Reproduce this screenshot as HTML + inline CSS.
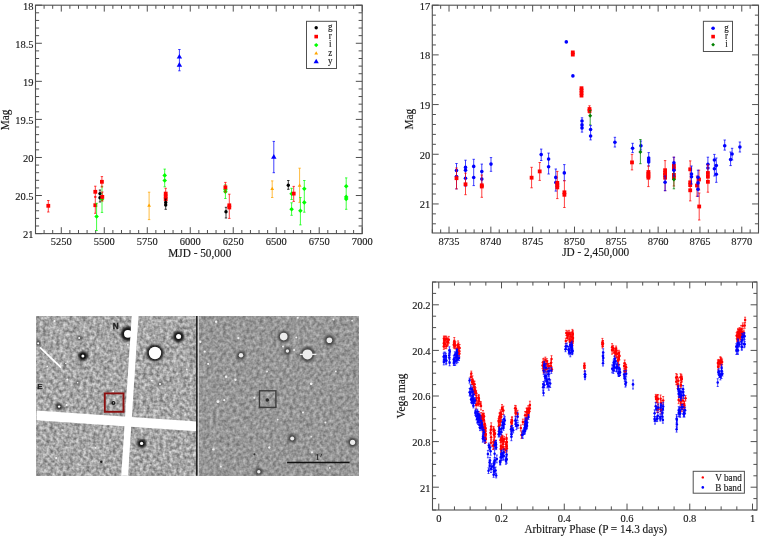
<!DOCTYPE html>
<html><head><meta charset="utf-8"><title>Figure</title><style>html,body{margin:0;padding:0;background:#fff;width:760px;height:537px;overflow:hidden}svg{display:block;filter:blur(0.35px)}text{font-family:"Liberation Serif",serif;stroke:#1a1a1a;stroke-width:.15px}</style></head><body><svg width="760" height="537" viewBox="0 0 760 537"><g fill="#1a1a1a" font-family="Liberation Serif, serif"><rect x="35.5" y="5.2" width="326.70" height="228.40" fill="none" stroke="#505050" stroke-width="1.1"/><path d="M35.50 233.6v-3.6M35.50 5.2v3.6M44.10 233.6v-3.6M44.10 5.2v3.6M52.69 233.6v-3.6M52.69 5.2v3.6M61.29 233.6v-6.4M61.29 5.2v6.4M69.89 233.6v-3.6M69.89 5.2v3.6M78.49 233.6v-3.6M78.49 5.2v3.6M87.08 233.6v-3.6M87.08 5.2v3.6M95.68 233.6v-3.6M95.68 5.2v3.6M104.28 233.6v-6.4M104.28 5.2v6.4M112.88 233.6v-3.6M112.88 5.2v3.6M121.47 233.6v-3.6M121.47 5.2v3.6M130.07 233.6v-3.6M130.07 5.2v3.6M138.67 233.6v-3.6M138.67 5.2v3.6M147.27 233.6v-6.4M147.27 5.2v6.4M155.86 233.6v-3.6M155.86 5.2v3.6M164.46 233.6v-3.6M164.46 5.2v3.6M173.06 233.6v-3.6M173.06 5.2v3.6M181.66 233.6v-3.6M181.66 5.2v3.6M190.25 233.6v-6.4M190.25 5.2v6.4M198.85 233.6v-3.6M198.85 5.2v3.6M207.45 233.6v-3.6M207.45 5.2v3.6M216.04 233.6v-3.6M216.04 5.2v3.6M224.64 233.6v-3.6M224.64 5.2v3.6M233.24 233.6v-6.4M233.24 5.2v6.4M241.84 233.6v-3.6M241.84 5.2v3.6M250.43 233.6v-3.6M250.43 5.2v3.6M259.03 233.6v-3.6M259.03 5.2v3.6M267.63 233.6v-3.6M267.63 5.2v3.6M276.23 233.6v-6.4M276.23 5.2v6.4M284.82 233.6v-3.6M284.82 5.2v3.6M293.42 233.6v-3.6M293.42 5.2v3.6M302.02 233.6v-3.6M302.02 5.2v3.6M310.62 233.6v-3.6M310.62 5.2v3.6M319.21 233.6v-6.4M319.21 5.2v6.4M327.81 233.6v-3.6M327.81 5.2v3.6M336.41 233.6v-3.6M336.41 5.2v3.6M345.01 233.6v-3.6M345.01 5.2v3.6M353.60 233.6v-3.6M353.60 5.2v3.6M362.20 233.6v-6.4M362.20 5.2v6.4M35.5 5.20h6.4M362.2 5.20h-6.4M35.5 12.81h3.6M362.2 12.81h-3.6M35.5 20.43h3.6M362.2 20.43h-3.6M35.5 28.04h3.6M362.2 28.04h-3.6M35.5 35.65h3.6M362.2 35.65h-3.6M35.5 43.27h6.4M362.2 43.27h-6.4M35.5 50.88h3.6M362.2 50.88h-3.6M35.5 58.49h3.6M362.2 58.49h-3.6M35.5 66.11h3.6M362.2 66.11h-3.6M35.5 73.72h3.6M362.2 73.72h-3.6M35.5 81.33h6.4M362.2 81.33h-6.4M35.5 88.95h3.6M362.2 88.95h-3.6M35.5 96.56h3.6M362.2 96.56h-3.6M35.5 104.17h3.6M362.2 104.17h-3.6M35.5 111.79h3.6M362.2 111.79h-3.6M35.5 119.40h6.4M362.2 119.40h-6.4M35.5 127.01h3.6M362.2 127.01h-3.6M35.5 134.63h3.6M362.2 134.63h-3.6M35.5 142.24h3.6M362.2 142.24h-3.6M35.5 149.85h3.6M362.2 149.85h-3.6M35.5 157.47h6.4M362.2 157.47h-6.4M35.5 165.08h3.6M362.2 165.08h-3.6M35.5 172.69h3.6M362.2 172.69h-3.6M35.5 180.31h3.6M362.2 180.31h-3.6M35.5 187.92h3.6M362.2 187.92h-3.6M35.5 195.53h6.4M362.2 195.53h-6.4M35.5 203.15h3.6M362.2 203.15h-3.6M35.5 210.76h3.6M362.2 210.76h-3.6M35.5 218.37h3.6M362.2 218.37h-3.6M35.5 225.99h3.6M362.2 225.99h-3.6M35.5 233.60h6.4M362.2 233.60h-6.4" stroke="#505050" stroke-width="1.0" fill="none"/><text transform="translate(61.29 245.20) scale(1 1.08)" font-size="10.5" text-anchor="middle">5250</text><text transform="translate(104.28 245.20) scale(1 1.08)" font-size="10.5" text-anchor="middle">5500</text><text transform="translate(147.27 245.20) scale(1 1.08)" font-size="10.5" text-anchor="middle">5750</text><text transform="translate(190.25 245.20) scale(1 1.08)" font-size="10.5" text-anchor="middle">6000</text><text transform="translate(233.24 245.20) scale(1 1.08)" font-size="10.5" text-anchor="middle">6250</text><text transform="translate(276.23 245.20) scale(1 1.08)" font-size="10.5" text-anchor="middle">6500</text><text transform="translate(319.21 245.20) scale(1 1.08)" font-size="10.5" text-anchor="middle">6750</text><text transform="translate(362.20 245.20) scale(1 1.08)" font-size="10.5" text-anchor="middle">7000</text><text transform="translate(33.50 9.50) scale(1 1.08)" font-size="10.5" text-anchor="end">18</text><text transform="translate(33.50 47.57) scale(1 1.08)" font-size="10.5" text-anchor="end">18.5</text><text transform="translate(33.50 85.63) scale(1 1.08)" font-size="10.5" text-anchor="end">19</text><text transform="translate(33.50 123.70) scale(1 1.08)" font-size="10.5" text-anchor="end">19.5</text><text transform="translate(33.50 161.77) scale(1 1.08)" font-size="10.5" text-anchor="end">20</text><text transform="translate(33.50 199.83) scale(1 1.08)" font-size="10.5" text-anchor="end">20.5</text><text transform="translate(33.50 237.90) scale(1 1.08)" font-size="10.5" text-anchor="end">21</text><text transform="translate(199.75 256.50) scale(1 1.08)" font-size="11.3" text-anchor="middle">MJD - 50,000</text><text transform="translate(8.60 120.00) rotate(-90) scale(1 1.08)" font-size="11.3" text-anchor="middle">Mag</text></g>
<g><path d="M48.30 200.50V212.00M47.10 200.50h2.4M47.10 212.00h2.4" stroke="#ff0000" stroke-width="0.75" fill="none"/><rect x="46.40" y="203.90" width="3.8" height="3.8" fill="#ff0000"/><path d="M95.30 186.20V197.40M94.10 186.20h2.4M94.10 197.40h2.4" stroke="#ff0000" stroke-width="0.75" fill="none"/><rect x="93.40" y="189.90" width="3.8" height="3.8" fill="#ff0000"/><path d="M95.30 196.50V213.30M94.10 196.50h2.4M94.10 213.30h2.4" stroke="#ff0000" stroke-width="0.75" fill="none"/><rect x="93.40" y="203.30" width="3.8" height="3.8" fill="#ff0000"/><path d="M96.60 203.30V230.50M95.40 203.30h2.4M95.40 230.50h2.4" stroke="#00ff00" stroke-width="0.75" fill="none"/><path d="M96.60 214.20L98.90 216.50L96.60 218.80L94.30 216.50Z" fill="#00ff00"/><path d="M100.00 190.00V202.00M98.80 190.00h2.4M98.80 202.00h2.4" stroke="#000" stroke-width="0.75" fill="none"/><circle cx="100.00" cy="193.60" r="1.7" fill="#000"/><circle cx="100.00" cy="197.70" r="1.7" fill="#000"/><path d="M102.00 186.30V212.40M100.80 186.30h2.4M100.80 212.40h2.4" stroke="#00ff00" stroke-width="0.75" fill="none"/><path d="M102.00 196.90L104.30 199.20L102.00 201.50L99.70 199.20Z" fill="#00ff00"/><path d="M101.90 176.60V187.00M100.70 176.60h2.4M100.70 187.00h2.4" stroke="#ff0000" stroke-width="0.75" fill="none"/><rect x="100.00" y="179.90" width="3.8" height="3.8" fill="#ff0000"/><path d="M102.30 192.00V201.00M101.10 192.00h2.4M101.10 201.00h2.4" stroke="#ff0000" stroke-width="0.75" fill="none"/><rect x="100.40" y="195.00" width="3.8" height="3.8" fill="#ff0000"/><path d="M149.10 192.20V219.60M147.90 192.20h2.4M147.90 219.60h2.4" stroke="#ffa500" stroke-width="0.75" fill="none"/><path d="M149.10 203.40L151.00 206.73L147.20 206.73Z" fill="#ffa500"/><path d="M164.70 169.10V186.80M163.50 169.10h2.4M163.50 186.80h2.4" stroke="#00ff00" stroke-width="0.75" fill="none"/><path d="M164.70 173.10L167.00 175.40L164.70 177.70L162.40 175.40Z" fill="#00ff00"/><path d="M164.70 178.20L167.00 180.50L164.70 182.80L162.40 180.50Z" fill="#00ff00"/><path d="M165.70 188.30V204.00M164.50 188.30h2.4M164.50 204.00h2.4" stroke="#ff0000" stroke-width="0.75" fill="none"/><rect x="163.80" y="191.70" width="3.8" height="3.8" fill="#ff0000"/><rect x="163.80" y="194.60" width="3.8" height="3.8" fill="#ff0000"/><rect x="163.80" y="197.40" width="3.8" height="3.8" fill="#ff0000"/><path d="M165.70 199.00V209.30M164.50 199.00h2.4M164.50 209.30h2.4" stroke="#000" stroke-width="0.75" fill="none"/><circle cx="165.70" cy="202.50" r="1.7" fill="#000"/><circle cx="165.70" cy="205.00" r="1.7" fill="#000"/><path d="M225.40 184.80V198.50M224.20 184.80h2.4M224.20 198.50h2.4" stroke="#00ff00" stroke-width="0.75" fill="none"/><path d="M225.40 187.40L227.70 189.70L225.40 192.00L223.10 189.70Z" fill="#00ff00"/><path d="M225.40 189.50L227.70 191.80L225.40 194.10L223.10 191.80Z" fill="#00ff00"/><path d="M225.40 182.40V192.00M224.20 182.40h2.4M224.20 192.00h2.4" stroke="#ff0000" stroke-width="0.75" fill="none"/><rect x="223.50" y="185.40" width="3.8" height="3.8" fill="#ff0000"/><path d="M226.00 207.30V218.00M224.80 207.30h2.4M224.80 218.00h2.4" stroke="#000" stroke-width="0.75" fill="none"/><circle cx="226.00" cy="211.80" r="1.7" fill="#000"/><path d="M229.30 194.20V218.40M228.10 194.20h2.4M228.10 218.40h2.4" stroke="#ff0000" stroke-width="0.75" fill="none"/><rect x="227.40" y="203.40" width="3.8" height="3.8" fill="#ff0000"/><rect x="227.40" y="205.60" width="3.8" height="3.8" fill="#ff0000"/><path d="M179.40 49.50V70.80M178.20 49.50h2.4M178.20 70.80h2.4" stroke="#0000ff" stroke-width="0.75" fill="none"/><path d="M179.40 53.90L182.10 58.62L176.70 58.62Z" fill="#0000ff"/><path d="M179.40 62.00L182.10 66.73L176.70 66.73Z" fill="#0000ff"/><path d="M273.80 141.40V172.70M272.60 141.40h2.4M272.60 172.70h2.4" stroke="#0000ff" stroke-width="0.75" fill="none"/><path d="M273.80 154.10L276.50 158.83L271.10 158.83Z" fill="#0000ff"/><path d="M272.20 180.90V197.50M271.00 180.90h2.4M271.00 197.50h2.4" stroke="#ffa500" stroke-width="0.75" fill="none"/><path d="M272.20 186.80L274.10 190.12L270.30 190.12Z" fill="#ffa500"/><path d="M288.30 180.50V189.30M287.10 180.50h2.4M287.10 189.30h2.4" stroke="#000" stroke-width="0.75" fill="none"/><circle cx="288.30" cy="185.20" r="1.7" fill="#000"/><path d="M291.60 188.30V199.50M290.40 188.30h2.4M290.40 199.50h2.4" stroke="#00ff00" stroke-width="0.75" fill="none"/><path d="M291.60 191.50L293.90 193.80L291.60 196.10L289.30 193.80Z" fill="#00ff00"/><path d="M293.70 186.40V201.40M292.50 186.40h2.4M292.50 201.40h2.4" stroke="#ff0000" stroke-width="0.75" fill="none"/><rect x="291.80" y="191.70" width="3.8" height="3.8" fill="#ff0000"/><path d="M291.60 202.80V215.30M290.40 202.80h2.4M290.40 215.30h2.4" stroke="#00ff00" stroke-width="0.75" fill="none"/><path d="M291.60 207.00L293.90 209.30L291.60 211.60L289.30 209.30Z" fill="#00ff00"/><path d="M299.60 168.20V202.40M298.40 168.20h2.4M298.40 202.40h2.4" stroke="#ffa500" stroke-width="0.75" fill="none"/><path d="M299.60 183.50L301.50 186.83L297.70 186.83Z" fill="#ffa500"/><path d="M300.40 197.50V224.90M299.20 197.50h2.4M299.20 224.90h2.4" stroke="#00ff00" stroke-width="0.75" fill="none"/><path d="M300.40 208.50L302.70 210.80L300.40 213.10L298.10 210.80Z" fill="#00ff00"/><path d="M304.30 180.50V212.20M303.10 180.50h2.4M303.10 212.20h2.4" stroke="#00ff00" stroke-width="0.75" fill="none"/><path d="M304.30 186.40L306.60 188.70L304.30 191.00L302.00 188.70Z" fill="#00ff00"/><path d="M304.30 200.10L306.60 202.40L304.30 204.70L302.00 202.40Z" fill="#00ff00"/><path d="M346.20 177.90V209.30M345.00 177.90h2.4M345.00 209.30h2.4" stroke="#00ff00" stroke-width="0.75" fill="none"/><path d="M346.20 183.90L348.50 186.20L346.20 188.50L343.90 186.20Z" fill="#00ff00"/><path d="M346.20 194.60L348.50 196.90L346.20 199.20L343.90 196.90Z" fill="#00ff00"/><path d="M346.20 196.60L348.50 198.90L346.20 201.20L343.90 198.90Z" fill="#00ff00"/></g>
<g fill="#1a1a1a" font-family="Liberation Serif, serif"><rect x="306.5" y="21.3" width="30" height="47.2" fill="none" stroke="#505050" stroke-width="1.0"/><circle cx="316.20" cy="27.80" r="1.7" fill="#000"/><rect x="314.40" y="34.80" width="3.6" height="3.6" fill="#ff0000"/><path d="M316.20 42.90L318.40 45.10L316.20 47.30L314.00 45.10Z" fill="#00ff00"/><path d="M316.20 51.30L318.10 54.62L314.30 54.62Z" fill="#ffa500"/><path d="M316.20 58.70L318.80 63.25L313.60 63.25Z" fill="#0000ff"/><text transform="translate(330.20 30.30) scale(1 1.08)" font-size="9" text-anchor="middle">g</text><text transform="translate(330.20 38.70) scale(1 1.08)" font-size="9" text-anchor="middle">r</text><text transform="translate(330.20 47.10) scale(1 1.08)" font-size="9" text-anchor="middle">i</text><text transform="translate(330.20 55.50) scale(1 1.08)" font-size="9" text-anchor="middle">z</text><text transform="translate(330.20 63.90) scale(1 1.08)" font-size="9" text-anchor="middle">y</text></g>
<g fill="#1a1a1a" font-family="Liberation Serif, serif"><rect x="432.3" y="5.2" width="326.20" height="227.80" fill="none" stroke="#505050" stroke-width="1.1"/><path d="M432.30 233v-3.6M432.30 5.2v3.6M440.66 233v-3.6M440.66 5.2v3.6M449.03 233v-6.4M449.03 5.2v6.4M457.39 233v-3.6M457.39 5.2v3.6M465.76 233v-3.6M465.76 5.2v3.6M474.12 233v-3.6M474.12 5.2v3.6M482.48 233v-3.6M482.48 5.2v3.6M490.85 233v-6.4M490.85 5.2v6.4M499.21 233v-3.6M499.21 5.2v3.6M507.58 233v-3.6M507.58 5.2v3.6M515.94 233v-3.6M515.94 5.2v3.6M524.31 233v-3.6M524.31 5.2v3.6M532.67 233v-6.4M532.67 5.2v6.4M541.03 233v-3.6M541.03 5.2v3.6M549.40 233v-3.6M549.40 5.2v3.6M557.76 233v-3.6M557.76 5.2v3.6M566.13 233v-3.6M566.13 5.2v3.6M574.49 233v-6.4M574.49 5.2v6.4M582.85 233v-3.6M582.85 5.2v3.6M591.22 233v-3.6M591.22 5.2v3.6M599.58 233v-3.6M599.58 5.2v3.6M607.95 233v-3.6M607.95 5.2v3.6M616.31 233v-6.4M616.31 5.2v6.4M624.67 233v-3.6M624.67 5.2v3.6M633.04 233v-3.6M633.04 5.2v3.6M641.40 233v-3.6M641.40 5.2v3.6M649.77 233v-3.6M649.77 5.2v3.6M658.13 233v-6.4M658.13 5.2v6.4M666.49 233v-3.6M666.49 5.2v3.6M674.86 233v-3.6M674.86 5.2v3.6M683.22 233v-3.6M683.22 5.2v3.6M691.59 233v-3.6M691.59 5.2v3.6M699.95 233v-6.4M699.95 5.2v6.4M708.32 233v-3.6M708.32 5.2v3.6M716.68 233v-3.6M716.68 5.2v3.6M725.04 233v-3.6M725.04 5.2v3.6M733.41 233v-3.6M733.41 5.2v3.6M741.77 233v-6.4M741.77 5.2v6.4M750.14 233v-3.6M750.14 5.2v3.6M758.50 233v-3.6M758.50 5.2v3.6M432.3 5.20h6.4M758.5 5.20h-6.4M432.3 15.14h3.6M758.5 15.14h-3.6M432.3 25.07h3.6M758.5 25.07h-3.6M432.3 35.01h3.6M758.5 35.01h-3.6M432.3 44.95h3.6M758.5 44.95h-3.6M432.3 54.88h6.4M758.5 54.88h-6.4M432.3 64.82h3.6M758.5 64.82h-3.6M432.3 74.76h3.6M758.5 74.76h-3.6M432.3 84.69h3.6M758.5 84.69h-3.6M432.3 94.63h3.6M758.5 94.63h-3.6M432.3 104.57h6.4M758.5 104.57h-6.4M432.3 114.50h3.6M758.5 114.50h-3.6M432.3 124.44h3.6M758.5 124.44h-3.6M432.3 134.38h3.6M758.5 134.38h-3.6M432.3 144.31h3.6M758.5 144.31h-3.6M432.3 154.25h6.4M758.5 154.25h-6.4M432.3 164.19h3.6M758.5 164.19h-3.6M432.3 174.12h3.6M758.5 174.12h-3.6M432.3 184.06h3.6M758.5 184.06h-3.6M432.3 194.00h3.6M758.5 194.00h-3.6M432.3 203.94h6.4M758.5 203.94h-6.4M432.3 213.87h3.6M758.5 213.87h-3.6M432.3 223.81h3.6M758.5 223.81h-3.6" stroke="#505050" stroke-width="1.0" fill="none"/><text transform="translate(449.03 244.60) scale(1 1.08)" font-size="10.5" text-anchor="middle">8735</text><text transform="translate(490.85 244.60) scale(1 1.08)" font-size="10.5" text-anchor="middle">8740</text><text transform="translate(532.67 244.60) scale(1 1.08)" font-size="10.5" text-anchor="middle">8745</text><text transform="translate(574.49 244.60) scale(1 1.08)" font-size="10.5" text-anchor="middle">8750</text><text transform="translate(616.31 244.60) scale(1 1.08)" font-size="10.5" text-anchor="middle">8755</text><text transform="translate(658.13 244.60) scale(1 1.08)" font-size="10.5" text-anchor="middle">8760</text><text transform="translate(699.95 244.60) scale(1 1.08)" font-size="10.5" text-anchor="middle">8765</text><text transform="translate(741.77 244.60) scale(1 1.08)" font-size="10.5" text-anchor="middle">8770</text><text transform="translate(430.30 9.50) scale(1 1.08)" font-size="10.5" text-anchor="end">17</text><text transform="translate(430.30 59.18) scale(1 1.08)" font-size="10.5" text-anchor="end">18</text><text transform="translate(430.30 108.87) scale(1 1.08)" font-size="10.5" text-anchor="end">19</text><text transform="translate(430.30 158.55) scale(1 1.08)" font-size="10.5" text-anchor="end">20</text><text transform="translate(430.30 208.24) scale(1 1.08)" font-size="10.5" text-anchor="end">21</text><text transform="translate(595.70 256.30) scale(1 1.08)" font-size="11.3" text-anchor="middle">JD - 2,450,000</text><text transform="translate(412.90 119.10) rotate(-90) scale(1 1.08)" font-size="11.3" text-anchor="middle">Mag</text></g>
<g><path d="M456.50 163.50V188.90M455.30 163.50h2.4M455.30 188.90h2.4" stroke="#0000ff" stroke-width="0.75" fill="none"/><circle cx="456.50" cy="170.60" r="1.8" fill="#0000ff"/><circle cx="456.50" cy="176.50" r="1.8" fill="#0000ff"/><path d="M456.50 168.00V188.90M455.30 168.00h2.4M455.30 188.90h2.4" stroke="#ff0000" stroke-width="0.75" fill="none"/><rect x="454.60" y="176.30" width="3.8" height="3.8" fill="#ff0000"/><path d="M465.50 160.20V186.30M464.30 160.20h2.4M464.30 186.30h2.4" stroke="#0000ff" stroke-width="0.75" fill="none"/><circle cx="465.50" cy="167.40" r="1.8" fill="#0000ff"/><circle cx="465.50" cy="170.20" r="1.8" fill="#0000ff"/><circle cx="465.50" cy="178.20" r="1.8" fill="#0000ff"/><path d="M465.50 173.20V194.70M464.30 173.20h2.4M464.30 194.70h2.4" stroke="#ff0000" stroke-width="0.75" fill="none"/><rect x="463.60" y="182.40" width="3.8" height="3.8" fill="#ff0000"/><path d="M473.70 159.30V185.60M472.50 159.30h2.4M472.50 185.60h2.4" stroke="#0000ff" stroke-width="0.75" fill="none"/><circle cx="473.70" cy="166.40" r="1.8" fill="#0000ff"/><circle cx="473.70" cy="177.50" r="1.8" fill="#0000ff"/><path d="M481.80 164.10V186.00M480.60 164.10h2.4M480.60 186.00h2.4" stroke="#0000ff" stroke-width="0.75" fill="none"/><circle cx="481.80" cy="171.50" r="1.8" fill="#0000ff"/><circle cx="481.80" cy="179.10" r="1.8" fill="#0000ff"/><path d="M481.80 175.00V197.30M480.60 175.00h2.4M480.60 197.30h2.4" stroke="#ff0000" stroke-width="0.75" fill="none"/><rect x="479.90" y="183.40" width="3.8" height="3.8" fill="#ff0000"/><rect x="479.90" y="184.60" width="3.8" height="3.8" fill="#ff0000"/><path d="M491.00 157.60V171.30M489.80 157.60h2.4M489.80 171.30h2.4" stroke="#0000ff" stroke-width="0.75" fill="none"/><circle cx="491.00" cy="164.10" r="1.8" fill="#0000ff"/><path d="M531.60 167.30V187.80M530.40 167.30h2.4M530.40 187.80h2.4" stroke="#ff0000" stroke-width="0.75" fill="none"/><rect x="529.70" y="175.80" width="3.8" height="3.8" fill="#ff0000"/><path d="M539.70 162.50V180.40M538.50 162.50h2.4M538.50 180.40h2.4" stroke="#ff0000" stroke-width="0.75" fill="none"/><rect x="537.80" y="169.50" width="3.8" height="3.8" fill="#ff0000"/><path d="M541.20 149.10V160.50M540.00 149.10h2.4M540.00 160.50h2.4" stroke="#0000ff" stroke-width="0.75" fill="none"/><circle cx="541.20" cy="154.60" r="1.8" fill="#0000ff"/><path d="M548.60 153.10V174.00M547.40 153.10h2.4M547.40 174.00h2.4" stroke="#0000ff" stroke-width="0.75" fill="none"/><circle cx="548.60" cy="159.10" r="1.8" fill="#0000ff"/><circle cx="548.60" cy="166.80" r="1.8" fill="#0000ff"/><path d="M555.80 169.00V191.10M554.60 169.00h2.4M554.60 191.10h2.4" stroke="#0000ff" stroke-width="0.75" fill="none"/><circle cx="555.80" cy="177.40" r="1.8" fill="#0000ff"/><circle cx="555.80" cy="182.50" r="1.8" fill="#0000ff"/><path d="M557.30 171.40V198.60M556.10 171.40h2.4M556.10 198.60h2.4" stroke="#ff0000" stroke-width="0.75" fill="none"/><rect x="555.40" y="181.00" width="3.8" height="3.8" fill="#ff0000"/><rect x="555.40" y="183.20" width="3.8" height="3.8" fill="#ff0000"/><rect x="555.40" y="185.50" width="3.8" height="3.8" fill="#ff0000"/><path d="M564.30 164.60V180.70M563.10 164.60h2.4M563.10 180.70h2.4" stroke="#0000ff" stroke-width="0.75" fill="none"/><circle cx="564.30" cy="172.90" r="1.8" fill="#0000ff"/><path d="M564.40 180.70V207.50M563.20 180.70h2.4M563.20 207.50h2.4" stroke="#ff0000" stroke-width="0.75" fill="none"/><rect x="562.50" y="190.40" width="3.8" height="3.8" fill="#ff0000"/><rect x="562.50" y="192.90" width="3.8" height="3.8" fill="#ff0000"/><circle cx="566.30" cy="41.90" r="1.8" fill="#0000ff"/><rect x="570.90" y="50.50" width="3.8" height="3.8" fill="#ff0000"/><rect x="570.90" y="52.70" width="3.8" height="3.8" fill="#ff0000"/><circle cx="572.90" cy="75.90" r="1.8" fill="#0000ff"/><rect x="579.60" y="86.30" width="3.8" height="3.8" fill="#ff0000"/><rect x="579.60" y="88.60" width="3.8" height="3.8" fill="#ff0000"/><rect x="579.60" y="91.10" width="3.8" height="3.8" fill="#ff0000"/><rect x="579.60" y="93.70" width="3.8" height="3.8" fill="#ff0000"/><path d="M582.00 117.80V132.10M580.80 117.80h2.4M580.80 132.10h2.4" stroke="#0000ff" stroke-width="0.75" fill="none"/><circle cx="582.00" cy="121.00" r="1.8" fill="#0000ff"/><circle cx="582.00" cy="124.90" r="1.8" fill="#0000ff"/><circle cx="582.00" cy="127.90" r="1.8" fill="#0000ff"/><path d="M589.50 105.80V113.00M588.30 105.80h2.4M588.30 113.00h2.4" stroke="#ff0000" stroke-width="0.75" fill="none"/><rect x="587.60" y="107.10" width="3.8" height="3.8" fill="#ff0000"/><rect x="587.60" y="109.10" width="3.8" height="3.8" fill="#ff0000"/><path d="M590.20 110.50V124.90M589.00 110.50h2.4M589.00 124.90h2.4" stroke="#008000" stroke-width="0.75" fill="none"/><path d="M590.20 113.80L592.20 115.80L590.20 117.80L588.20 115.80Z" fill="#008000"/><path d="M590.60 125.60V139.90M589.40 125.60h2.4M589.40 139.90h2.4" stroke="#0000ff" stroke-width="0.75" fill="none"/><circle cx="590.60" cy="129.50" r="1.8" fill="#0000ff"/><circle cx="590.60" cy="136.00" r="1.8" fill="#0000ff"/><path d="M614.90 137.30V147.00M613.70 137.30h2.4M613.70 147.00h2.4" stroke="#0000ff" stroke-width="0.75" fill="none"/><circle cx="614.90" cy="142.20" r="1.8" fill="#0000ff"/><path d="M632.60 143.30V152.60M631.40 143.30h2.4M631.40 152.60h2.4" stroke="#0000ff" stroke-width="0.75" fill="none"/><circle cx="632.60" cy="148.30" r="1.8" fill="#0000ff"/><path d="M632.00 154.40V169.90M630.80 154.40h2.4M630.80 169.90h2.4" stroke="#ff0000" stroke-width="0.75" fill="none"/><rect x="630.10" y="160.50" width="3.8" height="3.8" fill="#ff0000"/><path d="M640.90 141.00V150.00M639.70 141.00h2.4M639.70 150.00h2.4" stroke="#0000ff" stroke-width="0.75" fill="none"/><circle cx="640.90" cy="145.70" r="1.8" fill="#0000ff"/><path d="M640.40 139.50V163.70M639.20 139.50h2.4M639.20 163.70h2.4" stroke="#008000" stroke-width="0.75" fill="none"/><path d="M640.40 150.00L642.40 152.00L640.40 154.00L638.40 152.00Z" fill="#008000"/><path d="M648.70 152.60V166.00M647.50 152.60h2.4M647.50 166.00h2.4" stroke="#0000ff" stroke-width="0.75" fill="none"/><circle cx="648.70" cy="158.10" r="1.8" fill="#0000ff"/><circle cx="648.70" cy="160.00" r="1.8" fill="#0000ff"/><circle cx="648.70" cy="161.90" r="1.8" fill="#0000ff"/><path d="M648.40 166.00V186.60M647.20 166.00h2.4M647.20 186.60h2.4" stroke="#ff0000" stroke-width="0.75" fill="none"/><rect x="646.50" y="170.10" width="3.8" height="3.8" fill="#ff0000"/><rect x="646.50" y="172.10" width="3.8" height="3.8" fill="#ff0000"/><rect x="646.50" y="174.10" width="3.8" height="3.8" fill="#ff0000"/><rect x="646.50" y="175.80" width="3.8" height="3.8" fill="#ff0000"/><path d="M665.10 160.60V190.70M663.90 160.60h2.4M663.90 190.70h2.4" stroke="#ff0000" stroke-width="0.75" fill="none"/><rect x="663.20" y="168.30" width="3.8" height="3.8" fill="#ff0000"/><rect x="663.20" y="171.10" width="3.8" height="3.8" fill="#ff0000"/><rect x="663.20" y="173.10" width="3.8" height="3.8" fill="#ff0000"/><rect x="663.20" y="175.80" width="3.8" height="3.8" fill="#ff0000"/><path d="M665.10 176.00V190.70M663.90 176.00h2.4M663.90 190.70h2.4" stroke="#0000ff" stroke-width="0.75" fill="none"/><circle cx="665.10" cy="182.30" r="1.8" fill="#0000ff"/><path d="M673.90 157.20V186.00M672.70 157.20h2.4M672.70 186.00h2.4" stroke="#ff0000" stroke-width="0.75" fill="none"/><rect x="672.00" y="163.70" width="3.8" height="3.8" fill="#ff0000"/><rect x="672.00" y="166.80" width="3.8" height="3.8" fill="#ff0000"/><rect x="672.00" y="173.00" width="3.8" height="3.8" fill="#ff0000"/><rect x="672.00" y="175.80" width="3.8" height="3.8" fill="#ff0000"/><path d="M673.90 170.00V188.80M672.70 170.00h2.4M672.70 188.80h2.4" stroke="#008000" stroke-width="0.75" fill="none"/><path d="M673.90 177.50L675.90 179.50L673.90 181.50L671.90 179.50Z" fill="#008000"/><path d="M673.90 157.20V176.00M672.70 157.20h2.4M672.70 176.00h2.4" stroke="#0000ff" stroke-width="0.75" fill="none"/><circle cx="673.90" cy="162.80" r="1.8" fill="#0000ff"/><circle cx="673.90" cy="170.20" r="1.8" fill="#0000ff"/><path d="M690.20 160.90V200.90M689.00 160.90h2.4M689.00 200.90h2.4" stroke="#ff0000" stroke-width="0.75" fill="none"/><rect x="688.30" y="167.40" width="3.8" height="3.8" fill="#ff0000"/><rect x="688.30" y="180.40" width="3.8" height="3.8" fill="#ff0000"/><rect x="688.30" y="183.20" width="3.8" height="3.8" fill="#ff0000"/><rect x="688.30" y="188.40" width="3.8" height="3.8" fill="#ff0000"/><path d="M691.50 166.00V184.00M690.30 166.00h2.4M690.30 184.00h2.4" stroke="#0000ff" stroke-width="0.75" fill="none"/><circle cx="691.50" cy="174.00" r="1.8" fill="#0000ff"/><circle cx="691.50" cy="176.70" r="1.8" fill="#0000ff"/><path d="M699.00 170.20V190.00M697.80 170.20h2.4M697.80 190.00h2.4" stroke="#ff0000" stroke-width="0.75" fill="none"/><rect x="697.10" y="177.60" width="3.8" height="3.8" fill="#ff0000"/><path d="M697.00 176.00V196.30M695.80 176.00h2.4M695.80 196.30h2.4" stroke="#ff0000" stroke-width="0.75" fill="none"/><rect x="695.10" y="183.60" width="3.8" height="3.8" fill="#ff0000"/><path d="M698.00 170.20V196.30M696.80 170.20h2.4M696.80 196.30h2.4" stroke="#0000ff" stroke-width="0.75" fill="none"/><circle cx="698.00" cy="177.30" r="1.8" fill="#0000ff"/><circle cx="698.00" cy="182.90" r="1.8" fill="#0000ff"/><circle cx="698.00" cy="189.20" r="1.8" fill="#0000ff"/><path d="M699.20 193.00V220.00M698.00 193.00h2.4M698.00 220.00h2.4" stroke="#ff0000" stroke-width="0.75" fill="none"/><rect x="697.30" y="204.60" width="3.8" height="3.8" fill="#ff0000"/><path d="M707.90 157.20V175.00M706.70 157.20h2.4M706.70 175.00h2.4" stroke="#0000ff" stroke-width="0.75" fill="none"/><circle cx="707.90" cy="164.30" r="1.8" fill="#0000ff"/><circle cx="707.90" cy="168.00" r="1.8" fill="#0000ff"/><path d="M707.90 165.00V192.20M706.70 165.00h2.4M706.70 192.20h2.4" stroke="#ff0000" stroke-width="0.75" fill="none"/><rect x="706.00" y="171.10" width="3.8" height="3.8" fill="#ff0000"/><rect x="706.00" y="174.80" width="3.8" height="3.8" fill="#ff0000"/><rect x="706.00" y="179.90" width="3.8" height="3.8" fill="#ff0000"/><path d="M714.40 154.40V176.00M713.20 154.40h2.4M713.20 176.00h2.4" stroke="#0000ff" stroke-width="0.75" fill="none"/><circle cx="714.40" cy="160.00" r="1.8" fill="#0000ff"/><circle cx="714.40" cy="168.70" r="1.8" fill="#0000ff"/><path d="M716.30 158.00V182.30M715.10 158.00h2.4M715.10 182.30h2.4" stroke="#0000ff" stroke-width="0.75" fill="none"/><circle cx="716.30" cy="165.60" r="1.8" fill="#0000ff"/><circle cx="716.30" cy="174.30" r="1.8" fill="#0000ff"/><path d="M724.70 140.00V150.10M723.50 140.00h2.4M723.50 150.10h2.4" stroke="#0000ff" stroke-width="0.75" fill="none"/><circle cx="724.70" cy="145.70" r="1.8" fill="#0000ff"/><path d="M730.60 152.00V165.60M729.40 152.00h2.4M729.40 165.60h2.4" stroke="#0000ff" stroke-width="0.75" fill="none"/><circle cx="730.60" cy="159.60" r="1.8" fill="#0000ff"/><path d="M732.10 148.30V160.00M730.90 148.30h2.4M730.90 160.00h2.4" stroke="#0000ff" stroke-width="0.75" fill="none"/><circle cx="732.10" cy="154.00" r="1.8" fill="#0000ff"/><path d="M739.90 142.00V152.00M738.70 142.00h2.4M738.70 152.00h2.4" stroke="#0000ff" stroke-width="0.75" fill="none"/><circle cx="739.90" cy="147.00" r="1.8" fill="#0000ff"/></g>
<g fill="#1a1a1a" font-family="Liberation Serif, serif"><rect x="703.4" y="21.3" width="29.1" height="30.2" fill="none" stroke="#505050" stroke-width="1.0"/><circle cx="713.10" cy="28.30" r="1.8" fill="#0000ff"/><rect x="711.30" y="34.80" width="3.6" height="3.6" fill="#ff0000"/><path d="M713.10 42.80L715.00 44.70L713.10 46.60L711.20 44.70Z" fill="#008000"/><text transform="translate(726.50 30.50) scale(1 1.08)" font-size="9" text-anchor="middle">g</text><text transform="translate(726.50 38.70) scale(1 1.08)" font-size="9" text-anchor="middle">r</text><text transform="translate(726.50 46.90) scale(1 1.08)" font-size="9" text-anchor="middle">i</text></g>
<g fill="#1a1a1a" font-family="Liberation Serif, serif"><rect x="432.5" y="282.0" width="324.50" height="228.00" fill="none" stroke="#505050" stroke-width="1.1"/><path d="M438.77 510.0v-6.4M438.77 282.0v6.4M454.46 510.0v-3.6M454.46 282.0v3.6M470.15 510.0v-3.6M470.15 282.0v3.6M485.84 510.0v-3.6M485.84 282.0v3.6M501.52 510.0v-6.4M501.52 282.0v6.4M517.21 510.0v-3.6M517.21 282.0v3.6M532.90 510.0v-3.6M532.90 282.0v3.6M548.58 510.0v-3.6M548.58 282.0v3.6M564.27 510.0v-6.4M564.27 282.0v6.4M579.96 510.0v-3.6M579.96 282.0v3.6M595.64 510.0v-3.6M595.64 282.0v3.6M611.33 510.0v-3.6M611.33 282.0v3.6M627.02 510.0v-6.4M627.02 282.0v6.4M642.70 510.0v-3.6M642.70 282.0v3.6M658.39 510.0v-3.6M658.39 282.0v3.6M674.08 510.0v-3.6M674.08 282.0v3.6M689.77 510.0v-6.4M689.77 282.0v6.4M705.45 510.0v-3.6M705.45 282.0v3.6M721.14 510.0v-3.6M721.14 282.0v3.6M736.83 510.0v-3.6M736.83 282.0v3.6M752.51 510.0v-6.4M752.51 282.0v6.4M432.5 282.00h3.6M757 282.00h-3.6M432.5 293.40h3.6M757 293.40h-3.6M432.5 304.80h6.4M757 304.80h-6.4M432.5 316.20h3.6M757 316.20h-3.6M432.5 327.60h3.6M757 327.60h-3.6M432.5 339.00h3.6M757 339.00h-3.6M432.5 350.40h6.4M757 350.40h-6.4M432.5 361.80h3.6M757 361.80h-3.6M432.5 373.20h3.6M757 373.20h-3.6M432.5 384.60h3.6M757 384.60h-3.6M432.5 396.00h6.4M757 396.00h-6.4M432.5 407.40h3.6M757 407.40h-3.6M432.5 418.80h3.6M757 418.80h-3.6M432.5 430.20h3.6M757 430.20h-3.6M432.5 441.60h6.4M757 441.60h-6.4M432.5 453.00h3.6M757 453.00h-3.6M432.5 464.40h3.6M757 464.40h-3.6M432.5 475.80h3.6M757 475.80h-3.6M432.5 487.20h6.4M757 487.20h-6.4M432.5 498.60h3.6M757 498.60h-3.6M432.5 510.00h3.6M757 510.00h-3.6" stroke="#505050" stroke-width="1.0" fill="none"/><text transform="translate(438.77 521.60) scale(1 1.08)" font-size="10.5" text-anchor="middle">0</text><text transform="translate(501.52 521.60) scale(1 1.08)" font-size="10.5" text-anchor="middle">0.2</text><text transform="translate(564.27 521.60) scale(1 1.08)" font-size="10.5" text-anchor="middle">0.4</text><text transform="translate(627.02 521.60) scale(1 1.08)" font-size="10.5" text-anchor="middle">0.6</text><text transform="translate(689.77 521.60) scale(1 1.08)" font-size="10.5" text-anchor="middle">0.8</text><text transform="translate(752.51 521.60) scale(1 1.08)" font-size="10.5" text-anchor="middle">1</text><text transform="translate(430.50 309.10) scale(1 1.08)" font-size="10.5" text-anchor="end">20.2</text><text transform="translate(430.50 354.70) scale(1 1.08)" font-size="10.5" text-anchor="end">20.4</text><text transform="translate(430.50 400.30) scale(1 1.08)" font-size="10.5" text-anchor="end">20.6</text><text transform="translate(430.50 445.90) scale(1 1.08)" font-size="10.5" text-anchor="end">20.8</text><text transform="translate(430.50 491.50) scale(1 1.08)" font-size="10.5" text-anchor="end">21</text><text transform="translate(595.75 533.20) scale(1 1.08)" font-size="11.3" text-anchor="middle">Arbitrary Phase (P = 14.3 days)</text><text transform="translate(404.90 396.00) rotate(-90) scale(1 1.08)" font-size="11.3" text-anchor="middle">Vega mag</text></g>
<g><path d="M445.6 336.0V343.0M444.6 336.0h2M444.6 343.0h2" stroke="#ff0000" stroke-width="0.7" fill="none"/><circle cx="445.6" cy="339.5" r="1.25" fill="#ff0000"/><path d="M444.0 340.4V346.3M443.0 340.4h2M443.0 346.3h2" stroke="#ff0000" stroke-width="0.7" fill="none"/><circle cx="444.0" cy="343.4" r="1.25" fill="#ff0000"/><path d="M443.9 340.8V345.3M442.9 340.8h2M442.9 345.3h2" stroke="#ff0000" stroke-width="0.7" fill="none"/><circle cx="443.9" cy="343.1" r="1.25" fill="#ff0000"/><path d="M446.3 336.3V341.1M445.3 336.3h2M445.3 341.1h2" stroke="#ff0000" stroke-width="0.7" fill="none"/><circle cx="446.3" cy="338.7" r="1.25" fill="#ff0000"/><path d="M446.3 343.8V348.7M445.3 343.8h2M445.3 348.7h2" stroke="#ff0000" stroke-width="0.7" fill="none"/><circle cx="446.3" cy="346.3" r="1.25" fill="#ff0000"/><path d="M445.0 340.2V348.4M444.0 340.2h2M444.0 348.4h2" stroke="#ff0000" stroke-width="0.7" fill="none"/><circle cx="445.0" cy="344.3" r="1.25" fill="#ff0000"/><path d="M447.3 337.8V346.1M446.3 337.8h2M446.3 346.1h2" stroke="#ff0000" stroke-width="0.7" fill="none"/><circle cx="447.3" cy="342.0" r="1.25" fill="#ff0000"/><path d="M443.8 343.8V349.4M442.8 343.8h2M442.8 349.4h2" stroke="#ff0000" stroke-width="0.7" fill="none"/><circle cx="443.8" cy="346.6" r="1.25" fill="#ff0000"/><path d="M444.4 336.4V342.0M443.4 336.4h2M443.4 342.0h2" stroke="#ff0000" stroke-width="0.7" fill="none"/><circle cx="444.4" cy="339.2" r="1.25" fill="#ff0000"/><path d="M448.8 336.4V343.2M447.8 336.4h2M447.8 343.2h2" stroke="#ff0000" stroke-width="0.7" fill="none"/><circle cx="448.8" cy="339.8" r="1.25" fill="#ff0000"/><path d="M447.7 338.4V345.0M446.7 338.4h2M446.7 345.0h2" stroke="#ff0000" stroke-width="0.7" fill="none"/><circle cx="447.7" cy="341.7" r="1.25" fill="#ff0000"/><path d="M443.9 336.0V341.2M442.9 336.0h2M442.9 341.2h2" stroke="#ff0000" stroke-width="0.7" fill="none"/><circle cx="443.9" cy="338.6" r="1.25" fill="#ff0000"/><path d="M447.9 339.4V345.1M446.9 339.4h2M446.9 345.1h2" stroke="#ff0000" stroke-width="0.7" fill="none"/><circle cx="447.9" cy="342.3" r="1.25" fill="#ff0000"/><path d="M457.6 345.0V350.6M456.6 345.0h2M456.6 350.6h2" stroke="#ff0000" stroke-width="0.7" fill="none"/><circle cx="457.6" cy="347.8" r="1.25" fill="#ff0000"/><path d="M459.1 348.5V353.9M458.1 348.5h2M458.1 353.9h2" stroke="#ff0000" stroke-width="0.7" fill="none"/><circle cx="459.1" cy="351.2" r="1.25" fill="#ff0000"/><path d="M457.5 344.4V352.3M456.5 344.4h2M456.5 352.3h2" stroke="#ff0000" stroke-width="0.7" fill="none"/><circle cx="457.5" cy="348.4" r="1.25" fill="#ff0000"/><path d="M458.6 342.9V351.2M457.6 342.9h2M457.6 351.2h2" stroke="#ff0000" stroke-width="0.7" fill="none"/><circle cx="458.6" cy="347.0" r="1.25" fill="#ff0000"/><path d="M454.3 341.1V348.6M453.3 341.1h2M453.3 348.6h2" stroke="#ff0000" stroke-width="0.7" fill="none"/><circle cx="454.3" cy="344.8" r="1.25" fill="#ff0000"/><path d="M454.6 343.4V348.0M453.6 343.4h2M453.6 348.0h2" stroke="#ff0000" stroke-width="0.7" fill="none"/><circle cx="454.6" cy="345.7" r="1.25" fill="#ff0000"/><path d="M458.2 347.8V354.5M457.2 347.8h2M457.2 354.5h2" stroke="#ff0000" stroke-width="0.7" fill="none"/><circle cx="458.2" cy="351.1" r="1.25" fill="#ff0000"/><path d="M459.6 344.5V351.7M458.6 344.5h2M458.6 351.7h2" stroke="#ff0000" stroke-width="0.7" fill="none"/><circle cx="459.6" cy="348.1" r="1.25" fill="#ff0000"/><path d="M457.7 345.9V352.1M456.7 345.9h2M456.7 352.1h2" stroke="#ff0000" stroke-width="0.7" fill="none"/><circle cx="457.7" cy="349.0" r="1.25" fill="#ff0000"/><path d="M459.4 350.5V356.8M458.4 350.5h2M458.4 356.8h2" stroke="#ff0000" stroke-width="0.7" fill="none"/><circle cx="459.4" cy="353.7" r="1.25" fill="#ff0000"/><path d="M458.1 340.9V348.2M457.1 340.9h2M457.1 348.2h2" stroke="#ff0000" stroke-width="0.7" fill="none"/><circle cx="458.1" cy="344.6" r="1.25" fill="#ff0000"/><path d="M458.0 349.3V357.0M457.0 349.3h2M457.0 357.0h2" stroke="#ff0000" stroke-width="0.7" fill="none"/><circle cx="458.0" cy="353.2" r="1.25" fill="#ff0000"/><path d="M455.5 341.9V349.0M454.5 341.9h2M454.5 349.0h2" stroke="#ff0000" stroke-width="0.7" fill="none"/><circle cx="455.5" cy="345.5" r="1.25" fill="#ff0000"/><path d="M453.7 342.2V347.3M452.7 342.2h2M452.7 347.3h2" stroke="#ff0000" stroke-width="0.7" fill="none"/><circle cx="453.7" cy="344.7" r="1.25" fill="#ff0000"/><path d="M454.3 337.5V345.0M453.3 337.5h2M453.3 345.0h2" stroke="#ff0000" stroke-width="0.7" fill="none"/><circle cx="454.3" cy="341.3" r="1.25" fill="#ff0000"/><path d="M454.4 340.2V346.2M453.4 340.2h2M453.4 346.2h2" stroke="#ff0000" stroke-width="0.7" fill="none"/><circle cx="454.4" cy="343.2" r="1.25" fill="#ff0000"/><path d="M484.0 413.2V419.4M483.0 413.2h2M483.0 419.4h2" stroke="#ff0000" stroke-width="0.7" fill="none"/><circle cx="484.0" cy="416.3" r="1.25" fill="#ff0000"/><path d="M479.0 411.7V419.4M478.0 411.7h2M478.0 419.4h2" stroke="#ff0000" stroke-width="0.7" fill="none"/><circle cx="479.0" cy="415.5" r="1.25" fill="#ff0000"/><path d="M483.9 417.1V423.1M482.9 417.1h2M482.9 423.1h2" stroke="#ff0000" stroke-width="0.7" fill="none"/><circle cx="483.9" cy="420.1" r="1.25" fill="#ff0000"/><path d="M476.1 400.9V409.1M475.1 400.9h2M475.1 409.1h2" stroke="#ff0000" stroke-width="0.7" fill="none"/><circle cx="476.1" cy="405.0" r="1.25" fill="#ff0000"/><path d="M472.8 378.9V384.2M471.8 378.9h2M471.8 384.2h2" stroke="#ff0000" stroke-width="0.7" fill="none"/><circle cx="472.8" cy="381.5" r="1.25" fill="#ff0000"/><path d="M474.1 387.7V394.5M473.1 387.7h2M473.1 394.5h2" stroke="#ff0000" stroke-width="0.7" fill="none"/><circle cx="474.1" cy="391.1" r="1.25" fill="#ff0000"/><path d="M474.6 381.2V387.2M473.6 381.2h2M473.6 387.2h2" stroke="#ff0000" stroke-width="0.7" fill="none"/><circle cx="474.6" cy="384.2" r="1.25" fill="#ff0000"/><path d="M476.2 395.7V403.9M475.2 395.7h2M475.2 403.9h2" stroke="#ff0000" stroke-width="0.7" fill="none"/><circle cx="476.2" cy="399.8" r="1.25" fill="#ff0000"/><path d="M481.2 412.5V419.3M480.2 412.5h2M480.2 419.3h2" stroke="#ff0000" stroke-width="0.7" fill="none"/><circle cx="481.2" cy="415.9" r="1.25" fill="#ff0000"/><path d="M481.0 401.9V409.9M480.0 401.9h2M480.0 409.9h2" stroke="#ff0000" stroke-width="0.7" fill="none"/><circle cx="481.0" cy="405.9" r="1.25" fill="#ff0000"/><path d="M482.6 424.3V431.9M481.6 424.3h2M481.6 431.9h2" stroke="#ff0000" stroke-width="0.7" fill="none"/><circle cx="482.6" cy="428.1" r="1.25" fill="#ff0000"/><path d="M476.6 395.5V400.3M475.6 395.5h2M475.6 400.3h2" stroke="#ff0000" stroke-width="0.7" fill="none"/><circle cx="476.6" cy="397.9" r="1.25" fill="#ff0000"/><path d="M480.3 401.6V406.3M479.3 401.6h2M479.3 406.3h2" stroke="#ff0000" stroke-width="0.7" fill="none"/><circle cx="480.3" cy="403.9" r="1.25" fill="#ff0000"/><path d="M473.7 381.4V387.1M472.7 381.4h2M472.7 387.1h2" stroke="#ff0000" stroke-width="0.7" fill="none"/><circle cx="473.7" cy="384.2" r="1.25" fill="#ff0000"/><path d="M471.3 371.1V376.1M470.3 371.1h2M470.3 376.1h2" stroke="#ff0000" stroke-width="0.7" fill="none"/><circle cx="471.3" cy="373.6" r="1.25" fill="#ff0000"/><path d="M472.1 379.9V384.4M471.1 379.9h2M471.1 384.4h2" stroke="#ff0000" stroke-width="0.7" fill="none"/><circle cx="472.1" cy="382.1" r="1.25" fill="#ff0000"/><path d="M484.1 425.3V430.3M483.1 425.3h2M483.1 430.3h2" stroke="#ff0000" stroke-width="0.7" fill="none"/><circle cx="484.1" cy="427.8" r="1.25" fill="#ff0000"/><path d="M474.4 386.8V392.6M473.4 386.8h2M473.4 392.6h2" stroke="#ff0000" stroke-width="0.7" fill="none"/><circle cx="474.4" cy="389.7" r="1.25" fill="#ff0000"/><path d="M472.4 387.2V395.5M471.4 387.2h2M471.4 395.5h2" stroke="#ff0000" stroke-width="0.7" fill="none"/><circle cx="472.4" cy="391.4" r="1.25" fill="#ff0000"/><path d="M477.7 401.0V405.8M476.7 401.0h2M476.7 405.8h2" stroke="#ff0000" stroke-width="0.7" fill="none"/><circle cx="477.7" cy="403.4" r="1.25" fill="#ff0000"/><path d="M472.1 379.1V384.5M471.1 379.1h2M471.1 384.5h2" stroke="#ff0000" stroke-width="0.7" fill="none"/><circle cx="472.1" cy="381.8" r="1.25" fill="#ff0000"/><path d="M483.3 413.6V418.1M482.3 413.6h2M482.3 418.1h2" stroke="#ff0000" stroke-width="0.7" fill="none"/><circle cx="483.3" cy="415.8" r="1.25" fill="#ff0000"/><path d="M485.2 427.5V432.5M484.2 427.5h2M484.2 432.5h2" stroke="#ff0000" stroke-width="0.7" fill="none"/><circle cx="485.2" cy="430.0" r="1.25" fill="#ff0000"/><path d="M478.9 395.4V401.9M477.9 395.4h2M477.9 401.9h2" stroke="#ff0000" stroke-width="0.7" fill="none"/><circle cx="478.9" cy="398.7" r="1.25" fill="#ff0000"/><path d="M485.7 435.2V442.4M484.7 435.2h2M484.7 442.4h2" stroke="#ff0000" stroke-width="0.7" fill="none"/><circle cx="485.7" cy="438.8" r="1.25" fill="#ff0000"/><path d="M474.5 388.0V393.0M473.5 388.0h2M473.5 393.0h2" stroke="#ff0000" stroke-width="0.7" fill="none"/><circle cx="474.5" cy="390.5" r="1.25" fill="#ff0000"/><path d="M482.5 416.8V424.3M481.5 416.8h2M481.5 424.3h2" stroke="#ff0000" stroke-width="0.7" fill="none"/><circle cx="482.5" cy="420.6" r="1.25" fill="#ff0000"/><path d="M475.6 387.7V395.3M474.6 387.7h2M474.6 395.3h2" stroke="#ff0000" stroke-width="0.7" fill="none"/><circle cx="475.6" cy="391.5" r="1.25" fill="#ff0000"/><path d="M485.8 435.1V442.7M484.8 435.1h2M484.8 442.7h2" stroke="#ff0000" stroke-width="0.7" fill="none"/><circle cx="485.8" cy="438.9" r="1.25" fill="#ff0000"/><path d="M483.2 424.7V430.0M482.2 424.7h2M482.2 430.0h2" stroke="#ff0000" stroke-width="0.7" fill="none"/><circle cx="483.2" cy="427.4" r="1.25" fill="#ff0000"/><path d="M478.5 401.4V405.9M477.5 401.4h2M477.5 405.9h2" stroke="#ff0000" stroke-width="0.7" fill="none"/><circle cx="478.5" cy="403.7" r="1.25" fill="#ff0000"/><path d="M470.9 374.2V379.6M469.9 374.2h2M469.9 379.6h2" stroke="#ff0000" stroke-width="0.7" fill="none"/><circle cx="470.9" cy="376.9" r="1.25" fill="#ff0000"/><path d="M481.2 421.8V428.0M480.2 421.8h2M480.2 428.0h2" stroke="#ff0000" stroke-width="0.7" fill="none"/><circle cx="481.2" cy="424.9" r="1.25" fill="#ff0000"/><path d="M485.0 435.1V443.3M484.0 435.1h2M484.0 443.3h2" stroke="#ff0000" stroke-width="0.7" fill="none"/><circle cx="485.0" cy="439.2" r="1.25" fill="#ff0000"/><path d="M476.2 390.6V395.9M475.2 390.6h2M475.2 395.9h2" stroke="#ff0000" stroke-width="0.7" fill="none"/><circle cx="476.2" cy="393.2" r="1.25" fill="#ff0000"/><path d="M473.5 380.9V387.8M472.5 380.9h2M472.5 387.8h2" stroke="#ff0000" stroke-width="0.7" fill="none"/><circle cx="473.5" cy="384.3" r="1.25" fill="#ff0000"/><path d="M484.5 430.8V437.2M483.5 430.8h2M483.5 437.2h2" stroke="#ff0000" stroke-width="0.7" fill="none"/><circle cx="484.5" cy="434.0" r="1.25" fill="#ff0000"/><path d="M480.6 417.2V421.9M479.6 417.2h2M479.6 421.9h2" stroke="#ff0000" stroke-width="0.7" fill="none"/><circle cx="480.6" cy="419.6" r="1.25" fill="#ff0000"/><path d="M480.7 418.4V426.0M479.7 418.4h2M479.7 426.0h2" stroke="#ff0000" stroke-width="0.7" fill="none"/><circle cx="480.7" cy="422.2" r="1.25" fill="#ff0000"/><path d="M482.1 415.8V420.9M481.1 415.8h2M481.1 420.9h2" stroke="#ff0000" stroke-width="0.7" fill="none"/><circle cx="482.1" cy="418.3" r="1.25" fill="#ff0000"/><path d="M482.7 413.5V421.2M481.7 413.5h2M481.7 421.2h2" stroke="#ff0000" stroke-width="0.7" fill="none"/><circle cx="482.7" cy="417.4" r="1.25" fill="#ff0000"/><path d="M485.6 425.2V431.2M484.6 425.2h2M484.6 431.2h2" stroke="#ff0000" stroke-width="0.7" fill="none"/><circle cx="485.6" cy="428.2" r="1.25" fill="#ff0000"/><path d="M485.2 431.5V436.6M484.2 431.5h2M484.2 436.6h2" stroke="#ff0000" stroke-width="0.7" fill="none"/><circle cx="485.2" cy="434.1" r="1.25" fill="#ff0000"/><path d="M472.5 375.9V383.9M471.5 375.9h2M471.5 383.9h2" stroke="#ff0000" stroke-width="0.7" fill="none"/><circle cx="472.5" cy="379.9" r="1.25" fill="#ff0000"/><path d="M483.0 410.5V418.2M482.0 410.5h2M482.0 418.2h2" stroke="#ff0000" stroke-width="0.7" fill="none"/><circle cx="483.0" cy="414.4" r="1.25" fill="#ff0000"/><path d="M485.7 431.5V437.3M484.7 431.5h2M484.7 437.3h2" stroke="#ff0000" stroke-width="0.7" fill="none"/><circle cx="485.7" cy="434.4" r="1.25" fill="#ff0000"/><path d="M479.0 398.7V403.2M478.0 398.7h2M478.0 403.2h2" stroke="#ff0000" stroke-width="0.7" fill="none"/><circle cx="479.0" cy="401.0" r="1.25" fill="#ff0000"/><path d="M485.5 430.5V437.0M484.5 430.5h2M484.5 437.0h2" stroke="#ff0000" stroke-width="0.7" fill="none"/><circle cx="485.5" cy="433.7" r="1.25" fill="#ff0000"/><path d="M485.0 423.1V431.0M484.0 423.1h2M484.0 431.0h2" stroke="#ff0000" stroke-width="0.7" fill="none"/><circle cx="485.0" cy="427.1" r="1.25" fill="#ff0000"/><path d="M483.3 414.0V419.4M482.3 414.0h2M482.3 419.4h2" stroke="#ff0000" stroke-width="0.7" fill="none"/><circle cx="483.3" cy="416.7" r="1.25" fill="#ff0000"/><path d="M475.0 386.5V393.3M474.0 386.5h2M474.0 393.3h2" stroke="#ff0000" stroke-width="0.7" fill="none"/><circle cx="475.0" cy="389.9" r="1.25" fill="#ff0000"/><path d="M474.5 388.9V393.8M473.5 388.9h2M473.5 393.8h2" stroke="#ff0000" stroke-width="0.7" fill="none"/><circle cx="474.5" cy="391.3" r="1.25" fill="#ff0000"/><path d="M484.6 421.0V427.2M483.6 421.0h2M483.6 427.2h2" stroke="#ff0000" stroke-width="0.7" fill="none"/><circle cx="484.6" cy="424.1" r="1.25" fill="#ff0000"/><path d="M479.5 414.8V420.8M478.5 414.8h2M478.5 420.8h2" stroke="#ff0000" stroke-width="0.7" fill="none"/><circle cx="479.5" cy="417.8" r="1.25" fill="#ff0000"/><path d="M484.7 424.4V430.9M483.7 424.4h2M483.7 430.9h2" stroke="#ff0000" stroke-width="0.7" fill="none"/><circle cx="484.7" cy="427.7" r="1.25" fill="#ff0000"/><path d="M478.6 394.5V400.6M477.6 394.5h2M477.6 400.6h2" stroke="#ff0000" stroke-width="0.7" fill="none"/><circle cx="478.6" cy="397.5" r="1.25" fill="#ff0000"/><path d="M491.2 422.8V430.4M490.2 422.8h2M490.2 430.4h2" stroke="#ff0000" stroke-width="0.7" fill="none"/><circle cx="491.2" cy="426.6" r="1.25" fill="#ff0000"/><path d="M491.1 433.6V440.9M490.1 433.6h2M490.1 440.9h2" stroke="#ff0000" stroke-width="0.7" fill="none"/><circle cx="491.1" cy="437.2" r="1.25" fill="#ff0000"/><path d="M493.6 427.8V434.3M492.6 427.8h2M492.6 434.3h2" stroke="#ff0000" stroke-width="0.7" fill="none"/><circle cx="493.6" cy="431.1" r="1.25" fill="#ff0000"/><path d="M493.6 439.3V444.1M492.6 439.3h2M492.6 444.1h2" stroke="#ff0000" stroke-width="0.7" fill="none"/><circle cx="493.6" cy="441.7" r="1.25" fill="#ff0000"/><path d="M493.6 426.5V432.0M492.6 426.5h2M492.6 432.0h2" stroke="#ff0000" stroke-width="0.7" fill="none"/><circle cx="493.6" cy="429.3" r="1.25" fill="#ff0000"/><path d="M495.0 430.5V437.1M494.0 430.5h2M494.0 437.1h2" stroke="#ff0000" stroke-width="0.7" fill="none"/><circle cx="495.0" cy="433.8" r="1.25" fill="#ff0000"/><path d="M494.9 440.3V446.5M493.9 440.3h2M493.9 446.5h2" stroke="#ff0000" stroke-width="0.7" fill="none"/><circle cx="494.9" cy="443.4" r="1.25" fill="#ff0000"/><path d="M494.0 431.6V438.1M493.0 431.6h2M493.0 438.1h2" stroke="#ff0000" stroke-width="0.7" fill="none"/><circle cx="494.0" cy="434.8" r="1.25" fill="#ff0000"/><path d="M494.5 429.8V436.3M493.5 429.8h2M493.5 436.3h2" stroke="#ff0000" stroke-width="0.7" fill="none"/><circle cx="494.5" cy="433.0" r="1.25" fill="#ff0000"/><path d="M493.1 442.2V449.4M492.1 442.2h2M492.1 449.4h2" stroke="#ff0000" stroke-width="0.7" fill="none"/><circle cx="493.1" cy="445.8" r="1.25" fill="#ff0000"/><path d="M495.7 440.6V446.1M494.7 440.6h2M494.7 446.1h2" stroke="#ff0000" stroke-width="0.7" fill="none"/><circle cx="495.7" cy="443.4" r="1.25" fill="#ff0000"/><path d="M493.6 441.5V449.2M492.6 441.5h2M492.6 449.2h2" stroke="#ff0000" stroke-width="0.7" fill="none"/><circle cx="493.6" cy="445.3" r="1.25" fill="#ff0000"/><path d="M490.9 426.5V432.7M489.9 426.5h2M489.9 432.7h2" stroke="#ff0000" stroke-width="0.7" fill="none"/><circle cx="490.9" cy="429.6" r="1.25" fill="#ff0000"/><path d="M490.5 430.4V435.1M489.5 430.4h2M489.5 435.1h2" stroke="#ff0000" stroke-width="0.7" fill="none"/><circle cx="490.5" cy="432.7" r="1.25" fill="#ff0000"/><path d="M494.4 436.9V444.9M493.4 436.9h2M493.4 444.9h2" stroke="#ff0000" stroke-width="0.7" fill="none"/><circle cx="494.4" cy="440.9" r="1.25" fill="#ff0000"/><path d="M491.0 439.2V446.3M490.0 439.2h2M490.0 446.3h2" stroke="#ff0000" stroke-width="0.7" fill="none"/><circle cx="491.0" cy="442.7" r="1.25" fill="#ff0000"/><path d="M498.8 422.1V430.4M497.8 422.1h2M497.8 430.4h2" stroke="#ff0000" stroke-width="0.7" fill="none"/><circle cx="498.8" cy="426.3" r="1.25" fill="#ff0000"/><path d="M499.2 422.6V428.6M498.2 422.6h2M498.2 428.6h2" stroke="#ff0000" stroke-width="0.7" fill="none"/><circle cx="499.2" cy="425.6" r="1.25" fill="#ff0000"/><path d="M500.7 417.3V425.0M499.7 417.3h2M499.7 425.0h2" stroke="#ff0000" stroke-width="0.7" fill="none"/><circle cx="500.7" cy="421.1" r="1.25" fill="#ff0000"/><path d="M498.9 418.3V424.7M497.9 418.3h2M497.9 424.7h2" stroke="#ff0000" stroke-width="0.7" fill="none"/><circle cx="498.9" cy="421.5" r="1.25" fill="#ff0000"/><path d="M499.9 413.3V419.0M498.9 413.3h2M498.9 419.0h2" stroke="#ff0000" stroke-width="0.7" fill="none"/><circle cx="499.9" cy="416.1" r="1.25" fill="#ff0000"/><path d="M502.0 404.6V411.2M501.0 404.6h2M501.0 411.2h2" stroke="#ff0000" stroke-width="0.7" fill="none"/><circle cx="502.0" cy="407.9" r="1.25" fill="#ff0000"/><path d="M500.4 409.8V415.5M499.4 409.8h2M499.4 415.5h2" stroke="#ff0000" stroke-width="0.7" fill="none"/><circle cx="500.4" cy="412.7" r="1.25" fill="#ff0000"/><path d="M501.4 411.9V416.5M500.4 411.9h2M500.4 416.5h2" stroke="#ff0000" stroke-width="0.7" fill="none"/><circle cx="501.4" cy="414.2" r="1.25" fill="#ff0000"/><path d="M503.4 406.2V414.5M502.4 406.2h2M502.4 414.5h2" stroke="#ff0000" stroke-width="0.7" fill="none"/><circle cx="503.4" cy="410.4" r="1.25" fill="#ff0000"/><path d="M498.6 418.6V423.1M497.6 418.6h2M497.6 423.1h2" stroke="#ff0000" stroke-width="0.7" fill="none"/><circle cx="498.6" cy="420.8" r="1.25" fill="#ff0000"/><path d="M502.3 406.8V411.7M501.3 406.8h2M501.3 411.7h2" stroke="#ff0000" stroke-width="0.7" fill="none"/><circle cx="502.3" cy="409.3" r="1.25" fill="#ff0000"/><path d="M500.3 417.7V425.4M499.3 417.7h2M499.3 425.4h2" stroke="#ff0000" stroke-width="0.7" fill="none"/><circle cx="500.3" cy="421.6" r="1.25" fill="#ff0000"/><path d="M499.4 413.0V421.1M498.4 413.0h2M498.4 421.1h2" stroke="#ff0000" stroke-width="0.7" fill="none"/><circle cx="499.4" cy="417.1" r="1.25" fill="#ff0000"/><path d="M501.1 414.5V419.3M500.1 414.5h2M500.1 419.3h2" stroke="#ff0000" stroke-width="0.7" fill="none"/><circle cx="501.1" cy="416.9" r="1.25" fill="#ff0000"/><path d="M500.9 442.9V449.0M499.9 442.9h2M499.9 449.0h2" stroke="#ff0000" stroke-width="0.7" fill="none"/><circle cx="500.9" cy="445.9" r="1.25" fill="#ff0000"/><path d="M501.0 445.7V452.7M500.0 445.7h2M500.0 452.7h2" stroke="#ff0000" stroke-width="0.7" fill="none"/><circle cx="501.0" cy="449.2" r="1.25" fill="#ff0000"/><path d="M506.5 434.2V442.0M505.5 434.2h2M505.5 442.0h2" stroke="#ff0000" stroke-width="0.7" fill="none"/><circle cx="506.5" cy="438.1" r="1.25" fill="#ff0000"/><path d="M501.0 445.1V451.3M500.0 445.1h2M500.0 451.3h2" stroke="#ff0000" stroke-width="0.7" fill="none"/><circle cx="501.0" cy="448.2" r="1.25" fill="#ff0000"/><path d="M503.0 440.1V448.2M502.0 440.1h2M502.0 448.2h2" stroke="#ff0000" stroke-width="0.7" fill="none"/><circle cx="503.0" cy="444.2" r="1.25" fill="#ff0000"/><path d="M502.5 435.4V441.9M501.5 435.4h2M501.5 441.9h2" stroke="#ff0000" stroke-width="0.7" fill="none"/><circle cx="502.5" cy="438.7" r="1.25" fill="#ff0000"/><path d="M502.3 435.9V440.9M501.3 435.9h2M501.3 440.9h2" stroke="#ff0000" stroke-width="0.7" fill="none"/><circle cx="502.3" cy="438.4" r="1.25" fill="#ff0000"/><path d="M500.9 436.8V442.4M499.9 436.8h2M499.9 442.4h2" stroke="#ff0000" stroke-width="0.7" fill="none"/><circle cx="500.9" cy="439.6" r="1.25" fill="#ff0000"/><path d="M502.8 444.1V449.7M501.8 444.1h2M501.8 449.7h2" stroke="#ff0000" stroke-width="0.7" fill="none"/><circle cx="502.8" cy="446.9" r="1.25" fill="#ff0000"/><path d="M504.3 436.4V442.2M503.3 436.4h2M503.3 442.2h2" stroke="#ff0000" stroke-width="0.7" fill="none"/><circle cx="504.3" cy="439.3" r="1.25" fill="#ff0000"/><path d="M500.6 438.0V442.5M499.6 438.0h2M499.6 442.5h2" stroke="#ff0000" stroke-width="0.7" fill="none"/><circle cx="500.6" cy="440.3" r="1.25" fill="#ff0000"/><path d="M506.0 441.6V446.7M505.0 441.6h2M505.0 446.7h2" stroke="#ff0000" stroke-width="0.7" fill="none"/><circle cx="506.0" cy="444.2" r="1.25" fill="#ff0000"/><path d="M504.1 446.7V451.6M503.1 446.7h2M503.1 451.6h2" stroke="#ff0000" stroke-width="0.7" fill="none"/><circle cx="504.1" cy="449.2" r="1.25" fill="#ff0000"/><path d="M506.6 439.4V445.8M505.6 439.4h2M505.6 445.8h2" stroke="#ff0000" stroke-width="0.7" fill="none"/><circle cx="506.6" cy="442.6" r="1.25" fill="#ff0000"/><path d="M506.8 438.9V445.3M505.8 438.9h2M505.8 445.3h2" stroke="#ff0000" stroke-width="0.7" fill="none"/><circle cx="506.8" cy="442.1" r="1.25" fill="#ff0000"/><path d="M505.7 446.9V452.7M504.7 446.9h2M504.7 452.7h2" stroke="#ff0000" stroke-width="0.7" fill="none"/><circle cx="505.7" cy="449.8" r="1.25" fill="#ff0000"/><path d="M506.7 442.7V449.7M505.7 442.7h2M505.7 449.7h2" stroke="#ff0000" stroke-width="0.7" fill="none"/><circle cx="506.7" cy="446.2" r="1.25" fill="#ff0000"/><path d="M503.5 439.2V443.8M502.5 439.2h2M502.5 443.8h2" stroke="#ff0000" stroke-width="0.7" fill="none"/><circle cx="503.5" cy="441.5" r="1.25" fill="#ff0000"/><path d="M501.5 434.2V441.6M500.5 434.2h2M500.5 441.6h2" stroke="#ff0000" stroke-width="0.7" fill="none"/><circle cx="501.5" cy="437.9" r="1.25" fill="#ff0000"/><path d="M502.4 436.8V441.5M501.4 436.8h2M501.4 441.5h2" stroke="#ff0000" stroke-width="0.7" fill="none"/><circle cx="502.4" cy="439.1" r="1.25" fill="#ff0000"/><path d="M506.8 444.8V451.9M505.8 444.8h2M505.8 451.9h2" stroke="#ff0000" stroke-width="0.7" fill="none"/><circle cx="506.8" cy="448.3" r="1.25" fill="#ff0000"/><path d="M502.6 437.4V442.9M501.6 437.4h2M501.6 442.9h2" stroke="#ff0000" stroke-width="0.7" fill="none"/><circle cx="502.6" cy="440.1" r="1.25" fill="#ff0000"/><path d="M511.9 417.2V423.4M510.9 417.2h2M510.9 423.4h2" stroke="#ff0000" stroke-width="0.7" fill="none"/><circle cx="511.9" cy="420.3" r="1.25" fill="#ff0000"/><path d="M511.3 422.5V430.8M510.3 422.5h2M510.3 430.8h2" stroke="#ff0000" stroke-width="0.7" fill="none"/><circle cx="511.3" cy="426.7" r="1.25" fill="#ff0000"/><path d="M512.1 416.8V425.1M511.1 416.8h2M511.1 425.1h2" stroke="#ff0000" stroke-width="0.7" fill="none"/><circle cx="512.1" cy="421.0" r="1.25" fill="#ff0000"/><path d="M511.4 419.7V424.1M510.4 419.7h2M510.4 424.1h2" stroke="#ff0000" stroke-width="0.7" fill="none"/><circle cx="511.4" cy="421.9" r="1.25" fill="#ff0000"/><path d="M511.6 419.6V426.0M510.6 419.6h2M510.6 426.0h2" stroke="#ff0000" stroke-width="0.7" fill="none"/><circle cx="511.6" cy="422.8" r="1.25" fill="#ff0000"/><path d="M515.7 410.3V414.8M514.7 410.3h2M514.7 414.8h2" stroke="#ff0000" stroke-width="0.7" fill="none"/><circle cx="515.7" cy="412.5" r="1.25" fill="#ff0000"/><path d="M515.9 405.8V411.8M514.9 405.8h2M514.9 411.8h2" stroke="#ff0000" stroke-width="0.7" fill="none"/><circle cx="515.9" cy="408.8" r="1.25" fill="#ff0000"/><path d="M515.1 405.4V411.0M514.1 405.4h2M514.1 411.0h2" stroke="#ff0000" stroke-width="0.7" fill="none"/><circle cx="515.1" cy="408.2" r="1.25" fill="#ff0000"/><path d="M515.8 410.0V416.5M514.8 410.0h2M514.8 416.5h2" stroke="#ff0000" stroke-width="0.7" fill="none"/><circle cx="515.8" cy="413.3" r="1.25" fill="#ff0000"/><path d="M517.6 410.3V417.5M516.6 410.3h2M516.6 417.5h2" stroke="#ff0000" stroke-width="0.7" fill="none"/><circle cx="517.6" cy="413.9" r="1.25" fill="#ff0000"/><path d="M528.9 407.1V412.8M527.9 407.1h2M527.9 412.8h2" stroke="#ff0000" stroke-width="0.7" fill="none"/><circle cx="528.9" cy="409.9" r="1.25" fill="#ff0000"/><path d="M529.9 401.2V408.5M528.9 401.2h2M528.9 408.5h2" stroke="#ff0000" stroke-width="0.7" fill="none"/><circle cx="529.9" cy="404.9" r="1.25" fill="#ff0000"/><path d="M526.6 408.2V415.9M525.6 408.2h2M525.6 415.9h2" stroke="#ff0000" stroke-width="0.7" fill="none"/><circle cx="526.6" cy="412.0" r="1.25" fill="#ff0000"/><path d="M529.0 408.4V415.7M528.0 408.4h2M528.0 415.7h2" stroke="#ff0000" stroke-width="0.7" fill="none"/><circle cx="529.0" cy="412.1" r="1.25" fill="#ff0000"/><path d="M528.2 405.7V412.2M527.2 405.7h2M527.2 412.2h2" stroke="#ff0000" stroke-width="0.7" fill="none"/><circle cx="528.2" cy="409.0" r="1.25" fill="#ff0000"/><path d="M525.3 420.7V428.3M524.3 420.7h2M524.3 428.3h2" stroke="#ff0000" stroke-width="0.7" fill="none"/><circle cx="525.3" cy="424.5" r="1.25" fill="#ff0000"/><path d="M528.4 409.3V417.3M527.4 409.3h2M527.4 417.3h2" stroke="#ff0000" stroke-width="0.7" fill="none"/><circle cx="528.4" cy="413.3" r="1.25" fill="#ff0000"/><path d="M527.0 415.5V420.9M526.0 415.5h2M526.0 420.9h2" stroke="#ff0000" stroke-width="0.7" fill="none"/><circle cx="527.0" cy="418.2" r="1.25" fill="#ff0000"/><path d="M520.8 425.0V430.9M519.8 425.0h2M519.8 430.9h2" stroke="#ff0000" stroke-width="0.7" fill="none"/><circle cx="520.8" cy="428.0" r="1.25" fill="#ff0000"/><path d="M521.5 431.8V438.4M520.5 431.8h2M520.5 438.4h2" stroke="#ff0000" stroke-width="0.7" fill="none"/><circle cx="521.5" cy="435.1" r="1.25" fill="#ff0000"/><path d="M526.5 415.3V422.5M525.5 415.3h2M525.5 422.5h2" stroke="#ff0000" stroke-width="0.7" fill="none"/><circle cx="526.5" cy="418.9" r="1.25" fill="#ff0000"/><path d="M525.1 411.5V419.1M524.1 411.5h2M524.1 419.1h2" stroke="#ff0000" stroke-width="0.7" fill="none"/><circle cx="525.1" cy="415.3" r="1.25" fill="#ff0000"/><path d="M527.6 411.2V417.7M526.6 411.2h2M526.6 417.7h2" stroke="#ff0000" stroke-width="0.7" fill="none"/><circle cx="527.6" cy="414.5" r="1.25" fill="#ff0000"/><path d="M526.8 408.2V415.6M525.8 408.2h2M525.8 415.6h2" stroke="#ff0000" stroke-width="0.7" fill="none"/><circle cx="526.8" cy="411.9" r="1.25" fill="#ff0000"/><path d="M522.9 419.1V424.6M521.9 419.1h2M521.9 424.6h2" stroke="#ff0000" stroke-width="0.7" fill="none"/><circle cx="522.9" cy="421.9" r="1.25" fill="#ff0000"/><path d="M527.4 408.0V415.4M526.4 408.0h2M526.4 415.4h2" stroke="#ff0000" stroke-width="0.7" fill="none"/><circle cx="527.4" cy="411.7" r="1.25" fill="#ff0000"/><path d="M529.8 405.6V411.5M528.8 405.6h2M528.8 411.5h2" stroke="#ff0000" stroke-width="0.7" fill="none"/><circle cx="529.8" cy="408.6" r="1.25" fill="#ff0000"/><path d="M525.1 419.7V427.1M524.1 419.7h2M524.1 427.1h2" stroke="#ff0000" stroke-width="0.7" fill="none"/><circle cx="525.1" cy="423.4" r="1.25" fill="#ff0000"/><path d="M548.4 363.5V368.3M547.4 363.5h2M547.4 368.3h2" stroke="#ff0000" stroke-width="0.7" fill="none"/><circle cx="548.4" cy="365.9" r="1.25" fill="#ff0000"/><path d="M543.9 358.2V365.6M542.9 358.2h2M542.9 365.6h2" stroke="#ff0000" stroke-width="0.7" fill="none"/><circle cx="543.9" cy="361.9" r="1.25" fill="#ff0000"/><path d="M545.4 363.4V367.9M544.4 363.4h2M544.4 367.9h2" stroke="#ff0000" stroke-width="0.7" fill="none"/><circle cx="545.4" cy="365.6" r="1.25" fill="#ff0000"/><path d="M543.1 358.8V365.9M542.1 358.8h2M542.1 365.9h2" stroke="#ff0000" stroke-width="0.7" fill="none"/><circle cx="543.1" cy="362.3" r="1.25" fill="#ff0000"/><path d="M549.1 363.4V369.0M548.1 363.4h2M548.1 369.0h2" stroke="#ff0000" stroke-width="0.7" fill="none"/><circle cx="549.1" cy="366.2" r="1.25" fill="#ff0000"/><path d="M547.4 360.6V366.9M546.4 360.6h2M546.4 366.9h2" stroke="#ff0000" stroke-width="0.7" fill="none"/><circle cx="547.4" cy="363.7" r="1.25" fill="#ff0000"/><path d="M543.6 367.8V373.0M542.6 367.8h2M542.6 373.0h2" stroke="#ff0000" stroke-width="0.7" fill="none"/><circle cx="543.6" cy="370.4" r="1.25" fill="#ff0000"/><path d="M551.8 366.9V371.4M550.8 366.9h2M550.8 371.4h2" stroke="#ff0000" stroke-width="0.7" fill="none"/><circle cx="551.8" cy="369.2" r="1.25" fill="#ff0000"/><path d="M546.9 364.5V372.8M545.9 364.5h2M545.9 372.8h2" stroke="#ff0000" stroke-width="0.7" fill="none"/><circle cx="546.9" cy="368.7" r="1.25" fill="#ff0000"/><path d="M546.8 358.6V363.9M545.8 358.6h2M545.8 363.9h2" stroke="#ff0000" stroke-width="0.7" fill="none"/><circle cx="546.8" cy="361.3" r="1.25" fill="#ff0000"/><path d="M551.5 355.7V362.5M550.5 355.7h2M550.5 362.5h2" stroke="#ff0000" stroke-width="0.7" fill="none"/><circle cx="551.5" cy="359.1" r="1.25" fill="#ff0000"/><path d="M543.8 361.4V369.6M542.8 361.4h2M542.8 369.6h2" stroke="#ff0000" stroke-width="0.7" fill="none"/><circle cx="543.8" cy="365.5" r="1.25" fill="#ff0000"/><path d="M543.8 366.2V372.6M542.8 366.2h2M542.8 372.6h2" stroke="#ff0000" stroke-width="0.7" fill="none"/><circle cx="543.8" cy="369.4" r="1.25" fill="#ff0000"/><path d="M550.9 363.4V368.8M549.9 363.4h2M549.9 368.8h2" stroke="#ff0000" stroke-width="0.7" fill="none"/><circle cx="550.9" cy="366.1" r="1.25" fill="#ff0000"/><path d="M551.0 360.8V365.3M550.0 360.8h2M550.0 365.3h2" stroke="#ff0000" stroke-width="0.7" fill="none"/><circle cx="551.0" cy="363.1" r="1.25" fill="#ff0000"/><path d="M542.5 362.3V368.5M541.5 362.3h2M541.5 368.5h2" stroke="#ff0000" stroke-width="0.7" fill="none"/><circle cx="542.5" cy="365.4" r="1.25" fill="#ff0000"/><path d="M545.4 357.1V362.9M544.4 357.1h2M544.4 362.9h2" stroke="#ff0000" stroke-width="0.7" fill="none"/><circle cx="545.4" cy="360.0" r="1.25" fill="#ff0000"/><path d="M545.5 367.0V371.4M544.5 367.0h2M544.5 371.4h2" stroke="#ff0000" stroke-width="0.7" fill="none"/><circle cx="545.5" cy="369.2" r="1.25" fill="#ff0000"/><path d="M571.0 338.6V343.5M570.0 338.6h2M570.0 343.5h2" stroke="#ff0000" stroke-width="0.7" fill="none"/><circle cx="571.0" cy="341.1" r="1.25" fill="#ff0000"/><path d="M572.4 335.6V343.6M571.4 335.6h2M571.4 343.6h2" stroke="#ff0000" stroke-width="0.7" fill="none"/><circle cx="572.4" cy="339.6" r="1.25" fill="#ff0000"/><path d="M567.3 332.5V338.5M566.3 332.5h2M566.3 338.5h2" stroke="#ff0000" stroke-width="0.7" fill="none"/><circle cx="567.3" cy="335.5" r="1.25" fill="#ff0000"/><path d="M573.0 335.1V341.0M572.0 335.1h2M572.0 341.0h2" stroke="#ff0000" stroke-width="0.7" fill="none"/><circle cx="573.0" cy="338.1" r="1.25" fill="#ff0000"/><path d="M568.4 332.0V336.6M567.4 332.0h2M567.4 336.6h2" stroke="#ff0000" stroke-width="0.7" fill="none"/><circle cx="568.4" cy="334.3" r="1.25" fill="#ff0000"/><path d="M565.8 338.2V343.8M564.8 338.2h2M564.8 343.8h2" stroke="#ff0000" stroke-width="0.7" fill="none"/><circle cx="565.8" cy="341.0" r="1.25" fill="#ff0000"/><path d="M572.5 331.3V336.7M571.5 331.3h2M571.5 336.7h2" stroke="#ff0000" stroke-width="0.7" fill="none"/><circle cx="572.5" cy="334.0" r="1.25" fill="#ff0000"/><path d="M569.1 330.3V336.2M568.1 330.3h2M568.1 336.2h2" stroke="#ff0000" stroke-width="0.7" fill="none"/><circle cx="569.1" cy="333.3" r="1.25" fill="#ff0000"/><path d="M572.6 337.8V345.4M571.6 337.8h2M571.6 345.4h2" stroke="#ff0000" stroke-width="0.7" fill="none"/><circle cx="572.6" cy="341.6" r="1.25" fill="#ff0000"/><path d="M570.0 337.9V346.0M569.0 337.9h2M569.0 346.0h2" stroke="#ff0000" stroke-width="0.7" fill="none"/><circle cx="570.0" cy="342.0" r="1.25" fill="#ff0000"/><path d="M569.4 337.3V341.9M568.4 337.3h2M568.4 341.9h2" stroke="#ff0000" stroke-width="0.7" fill="none"/><circle cx="569.4" cy="339.6" r="1.25" fill="#ff0000"/><path d="M570.9 332.7V340.1M569.9 332.7h2M569.9 340.1h2" stroke="#ff0000" stroke-width="0.7" fill="none"/><circle cx="570.9" cy="336.4" r="1.25" fill="#ff0000"/><path d="M570.2 332.1V336.7M569.2 332.1h2M569.2 336.7h2" stroke="#ff0000" stroke-width="0.7" fill="none"/><circle cx="570.2" cy="334.4" r="1.25" fill="#ff0000"/><path d="M572.4 329.4V335.7M571.4 329.4h2M571.4 335.7h2" stroke="#ff0000" stroke-width="0.7" fill="none"/><circle cx="572.4" cy="332.5" r="1.25" fill="#ff0000"/><path d="M567.7 330.9V338.3M566.7 330.9h2M566.7 338.3h2" stroke="#ff0000" stroke-width="0.7" fill="none"/><circle cx="567.7" cy="334.6" r="1.25" fill="#ff0000"/><path d="M572.8 330.6V337.6M571.8 330.6h2M571.8 337.6h2" stroke="#ff0000" stroke-width="0.7" fill="none"/><circle cx="572.8" cy="334.1" r="1.25" fill="#ff0000"/><path d="M567.4 334.7V340.7M566.4 334.7h2M566.4 340.7h2" stroke="#ff0000" stroke-width="0.7" fill="none"/><circle cx="567.4" cy="337.7" r="1.25" fill="#ff0000"/><path d="M566.3 330.3V335.6M565.3 330.3h2M565.3 335.6h2" stroke="#ff0000" stroke-width="0.7" fill="none"/><circle cx="566.3" cy="332.9" r="1.25" fill="#ff0000"/><path d="M572.2 334.3V339.6M571.2 334.3h2M571.2 339.6h2" stroke="#ff0000" stroke-width="0.7" fill="none"/><circle cx="572.2" cy="337.0" r="1.25" fill="#ff0000"/><path d="M572.3 339.9V346.1M571.3 339.9h2M571.3 346.1h2" stroke="#ff0000" stroke-width="0.7" fill="none"/><circle cx="572.3" cy="343.0" r="1.25" fill="#ff0000"/><path d="M584.3 363.6V368.3M583.3 363.6h2M583.3 368.3h2" stroke="#ff0000" stroke-width="0.7" fill="none"/><circle cx="584.3" cy="366.0" r="1.25" fill="#ff0000"/><path d="M584.5 362.8V368.1M583.5 362.8h2M583.5 368.1h2" stroke="#ff0000" stroke-width="0.7" fill="none"/><circle cx="584.5" cy="365.5" r="1.25" fill="#ff0000"/><path d="M584.5 363.9V371.8M583.5 363.9h2M583.5 371.8h2" stroke="#ff0000" stroke-width="0.7" fill="none"/><circle cx="584.5" cy="367.8" r="1.25" fill="#ff0000"/><path d="M603.0 340.7V346.7M602.0 340.7h2M602.0 346.7h2" stroke="#ff0000" stroke-width="0.7" fill="none"/><circle cx="603.0" cy="343.7" r="1.25" fill="#ff0000"/><path d="M602.8 340.5V346.3M601.8 340.5h2M601.8 346.3h2" stroke="#ff0000" stroke-width="0.7" fill="none"/><circle cx="602.8" cy="343.4" r="1.25" fill="#ff0000"/><path d="M602.4 338.4V346.6M601.4 338.4h2M601.4 346.6h2" stroke="#ff0000" stroke-width="0.7" fill="none"/><circle cx="602.4" cy="342.5" r="1.25" fill="#ff0000"/><path d="M602.4 341.1V348.0M601.4 341.1h2M601.4 348.0h2" stroke="#ff0000" stroke-width="0.7" fill="none"/><circle cx="602.4" cy="344.5" r="1.25" fill="#ff0000"/><path d="M616.1 346.0V351.5M615.1 346.0h2M615.1 351.5h2" stroke="#ff0000" stroke-width="0.7" fill="none"/><circle cx="616.1" cy="348.7" r="1.25" fill="#ff0000"/><path d="M613.2 347.1V353.3M612.2 347.1h2M612.2 353.3h2" stroke="#ff0000" stroke-width="0.7" fill="none"/><circle cx="613.2" cy="350.2" r="1.25" fill="#ff0000"/><path d="M616.5 349.8V357.7M615.5 349.8h2M615.5 357.7h2" stroke="#ff0000" stroke-width="0.7" fill="none"/><circle cx="616.5" cy="353.8" r="1.25" fill="#ff0000"/><path d="M612.1 343.6V350.9M611.1 343.6h2M611.1 350.9h2" stroke="#ff0000" stroke-width="0.7" fill="none"/><circle cx="612.1" cy="347.3" r="1.25" fill="#ff0000"/><path d="M616.2 347.4V354.2M615.2 347.4h2M615.2 354.2h2" stroke="#ff0000" stroke-width="0.7" fill="none"/><circle cx="616.2" cy="350.8" r="1.25" fill="#ff0000"/><path d="M612.0 346.1V354.2M611.0 346.1h2M611.0 354.2h2" stroke="#ff0000" stroke-width="0.7" fill="none"/><circle cx="612.0" cy="350.1" r="1.25" fill="#ff0000"/><path d="M615.9 349.7V358.0M614.9 349.7h2M614.9 358.0h2" stroke="#ff0000" stroke-width="0.7" fill="none"/><circle cx="615.9" cy="353.8" r="1.25" fill="#ff0000"/><path d="M613.2 345.4V350.4M612.2 345.4h2M612.2 350.4h2" stroke="#ff0000" stroke-width="0.7" fill="none"/><circle cx="613.2" cy="347.9" r="1.25" fill="#ff0000"/><path d="M614.5 348.4V356.5M613.5 348.4h2M613.5 356.5h2" stroke="#ff0000" stroke-width="0.7" fill="none"/><circle cx="614.5" cy="352.5" r="1.25" fill="#ff0000"/><path d="M615.4 348.4V355.9M614.4 348.4h2M614.4 355.9h2" stroke="#ff0000" stroke-width="0.7" fill="none"/><circle cx="615.4" cy="352.2" r="1.25" fill="#ff0000"/><path d="M618.3 357.3V361.9M617.3 357.3h2M617.3 361.9h2" stroke="#ff0000" stroke-width="0.7" fill="none"/><circle cx="618.3" cy="359.6" r="1.25" fill="#ff0000"/><path d="M619.5 351.8V359.8M618.5 351.8h2M618.5 359.8h2" stroke="#ff0000" stroke-width="0.7" fill="none"/><circle cx="619.5" cy="355.8" r="1.25" fill="#ff0000"/><path d="M619.0 354.2V359.1M618.0 354.2h2M618.0 359.1h2" stroke="#ff0000" stroke-width="0.7" fill="none"/><circle cx="619.0" cy="356.6" r="1.25" fill="#ff0000"/><path d="M617.6 357.0V364.2M616.6 357.0h2M616.6 364.2h2" stroke="#ff0000" stroke-width="0.7" fill="none"/><circle cx="617.6" cy="360.6" r="1.25" fill="#ff0000"/><path d="M617.1 350.6V357.1M616.1 350.6h2M616.1 357.1h2" stroke="#ff0000" stroke-width="0.7" fill="none"/><circle cx="617.1" cy="353.8" r="1.25" fill="#ff0000"/><path d="M618.8 355.0V360.3M617.8 355.0h2M617.8 360.3h2" stroke="#ff0000" stroke-width="0.7" fill="none"/><circle cx="618.8" cy="357.7" r="1.25" fill="#ff0000"/><path d="M618.9 350.3V355.9M617.9 350.3h2M617.9 355.9h2" stroke="#ff0000" stroke-width="0.7" fill="none"/><circle cx="618.9" cy="353.1" r="1.25" fill="#ff0000"/><path d="M618.4 361.0V368.0M617.4 361.0h2M617.4 368.0h2" stroke="#ff0000" stroke-width="0.7" fill="none"/><circle cx="618.4" cy="364.5" r="1.25" fill="#ff0000"/><path d="M626.1 364.6V369.9M625.1 364.6h2M625.1 369.9h2" stroke="#ff0000" stroke-width="0.7" fill="none"/><circle cx="626.1" cy="367.3" r="1.25" fill="#ff0000"/><path d="M624.6 368.0V375.3M623.6 368.0h2M623.6 375.3h2" stroke="#ff0000" stroke-width="0.7" fill="none"/><circle cx="624.6" cy="371.6" r="1.25" fill="#ff0000"/><path d="M624.7 360.0V366.4M623.7 360.0h2M623.7 366.4h2" stroke="#ff0000" stroke-width="0.7" fill="none"/><circle cx="624.7" cy="363.2" r="1.25" fill="#ff0000"/><path d="M625.6 364.1V369.5M624.6 364.1h2M624.6 369.5h2" stroke="#ff0000" stroke-width="0.7" fill="none"/><circle cx="625.6" cy="366.8" r="1.25" fill="#ff0000"/><path d="M625.6 368.7V374.0M624.6 368.7h2M624.6 374.0h2" stroke="#ff0000" stroke-width="0.7" fill="none"/><circle cx="625.6" cy="371.3" r="1.25" fill="#ff0000"/><path d="M624.1 363.0V369.1M623.1 363.0h2M623.1 369.1h2" stroke="#ff0000" stroke-width="0.7" fill="none"/><circle cx="624.1" cy="366.0" r="1.25" fill="#ff0000"/><path d="M660.6 395.0V402.6M659.6 395.0h2M659.6 402.6h2" stroke="#ff0000" stroke-width="0.7" fill="none"/><circle cx="660.6" cy="398.8" r="1.25" fill="#ff0000"/><path d="M661.2 400.5V405.7M660.2 400.5h2M660.2 405.7h2" stroke="#ff0000" stroke-width="0.7" fill="none"/><circle cx="661.2" cy="403.1" r="1.25" fill="#ff0000"/><path d="M663.2 396.5V404.2M662.2 396.5h2M662.2 404.2h2" stroke="#ff0000" stroke-width="0.7" fill="none"/><circle cx="663.2" cy="400.4" r="1.25" fill="#ff0000"/><path d="M656.6 395.4V402.8M655.6 395.4h2M655.6 402.8h2" stroke="#ff0000" stroke-width="0.7" fill="none"/><circle cx="656.6" cy="399.1" r="1.25" fill="#ff0000"/><path d="M657.2 406.1V412.5M656.2 406.1h2M656.2 412.5h2" stroke="#ff0000" stroke-width="0.7" fill="none"/><circle cx="657.2" cy="409.3" r="1.25" fill="#ff0000"/><path d="M656.2 396.1V402.2M655.2 396.1h2M655.2 402.2h2" stroke="#ff0000" stroke-width="0.7" fill="none"/><circle cx="656.2" cy="399.1" r="1.25" fill="#ff0000"/><path d="M660.5 406.8V411.8M659.5 406.8h2M659.5 411.8h2" stroke="#ff0000" stroke-width="0.7" fill="none"/><circle cx="660.5" cy="409.3" r="1.25" fill="#ff0000"/><path d="M658.0 394.8V403.1M657.0 394.8h2M657.0 403.1h2" stroke="#ff0000" stroke-width="0.7" fill="none"/><circle cx="658.0" cy="399.0" r="1.25" fill="#ff0000"/><path d="M655.8 394.4V399.0M654.8 394.4h2M654.8 399.0h2" stroke="#ff0000" stroke-width="0.7" fill="none"/><circle cx="655.8" cy="396.7" r="1.25" fill="#ff0000"/><path d="M658.0 404.6V412.5M657.0 404.6h2M657.0 412.5h2" stroke="#ff0000" stroke-width="0.7" fill="none"/><circle cx="658.0" cy="408.6" r="1.25" fill="#ff0000"/><path d="M661.1 405.9V414.0M660.1 405.9h2M660.1 414.0h2" stroke="#ff0000" stroke-width="0.7" fill="none"/><circle cx="661.1" cy="410.0" r="1.25" fill="#ff0000"/><path d="M657.5 394.5V402.7M656.5 394.5h2M656.5 402.7h2" stroke="#ff0000" stroke-width="0.7" fill="none"/><circle cx="657.5" cy="398.6" r="1.25" fill="#ff0000"/><path d="M680.5 373.8V380.8M679.5 373.8h2M679.5 380.8h2" stroke="#ff0000" stroke-width="0.7" fill="none"/><circle cx="680.5" cy="377.3" r="1.25" fill="#ff0000"/><path d="M678.3 377.9V383.6M677.3 377.9h2M677.3 383.6h2" stroke="#ff0000" stroke-width="0.7" fill="none"/><circle cx="678.3" cy="380.7" r="1.25" fill="#ff0000"/><path d="M677.0 374.3V379.8M676.0 374.3h2M676.0 379.8h2" stroke="#ff0000" stroke-width="0.7" fill="none"/><circle cx="677.0" cy="377.0" r="1.25" fill="#ff0000"/><path d="M678.1 384.1V389.0M677.1 384.1h2M677.1 389.0h2" stroke="#ff0000" stroke-width="0.7" fill="none"/><circle cx="678.1" cy="386.6" r="1.25" fill="#ff0000"/><path d="M681.8 376.2V382.0M680.8 376.2h2M680.8 382.0h2" stroke="#ff0000" stroke-width="0.7" fill="none"/><circle cx="681.8" cy="379.1" r="1.25" fill="#ff0000"/><path d="M680.9 382.2V388.3M679.9 382.2h2M679.9 388.3h2" stroke="#ff0000" stroke-width="0.7" fill="none"/><circle cx="680.9" cy="385.2" r="1.25" fill="#ff0000"/><path d="M676.3 378.8V384.7M675.3 378.8h2M675.3 384.7h2" stroke="#ff0000" stroke-width="0.7" fill="none"/><circle cx="676.3" cy="381.7" r="1.25" fill="#ff0000"/><path d="M681.5 376.0V381.9M680.5 376.0h2M680.5 381.9h2" stroke="#ff0000" stroke-width="0.7" fill="none"/><circle cx="681.5" cy="378.9" r="1.25" fill="#ff0000"/><path d="M681.4 374.3V380.3M680.4 374.3h2M680.4 380.3h2" stroke="#ff0000" stroke-width="0.7" fill="none"/><circle cx="681.4" cy="377.3" r="1.25" fill="#ff0000"/><path d="M680.9 382.4V386.9M679.9 382.4h2M679.9 386.9h2" stroke="#ff0000" stroke-width="0.7" fill="none"/><circle cx="680.9" cy="384.7" r="1.25" fill="#ff0000"/><path d="M676.2 373.6V381.7M675.2 373.6h2M675.2 381.7h2" stroke="#ff0000" stroke-width="0.7" fill="none"/><circle cx="676.2" cy="377.6" r="1.25" fill="#ff0000"/><path d="M677.5 380.5V388.5M676.5 380.5h2M676.5 388.5h2" stroke="#ff0000" stroke-width="0.7" fill="none"/><circle cx="677.5" cy="384.5" r="1.25" fill="#ff0000"/><path d="M680.7 396.6V404.8M679.7 396.6h2M679.7 404.8h2" stroke="#ff0000" stroke-width="0.7" fill="none"/><circle cx="680.7" cy="400.7" r="1.25" fill="#ff0000"/><path d="M682.9 397.0V404.3M681.9 397.0h2M681.9 404.3h2" stroke="#ff0000" stroke-width="0.7" fill="none"/><circle cx="682.9" cy="400.6" r="1.25" fill="#ff0000"/><path d="M680.5 398.5V403.0M679.5 398.5h2M679.5 403.0h2" stroke="#ff0000" stroke-width="0.7" fill="none"/><circle cx="680.5" cy="400.8" r="1.25" fill="#ff0000"/><path d="M684.0 403.7V410.6M683.0 403.7h2M683.0 410.6h2" stroke="#ff0000" stroke-width="0.7" fill="none"/><circle cx="684.0" cy="407.2" r="1.25" fill="#ff0000"/><path d="M685.5 395.6V400.9M684.5 395.6h2M684.5 400.9h2" stroke="#ff0000" stroke-width="0.7" fill="none"/><circle cx="685.5" cy="398.2" r="1.25" fill="#ff0000"/><path d="M681.8 403.5V411.7M680.8 403.5h2M680.8 411.7h2" stroke="#ff0000" stroke-width="0.7" fill="none"/><circle cx="681.8" cy="407.6" r="1.25" fill="#ff0000"/><path d="M681.1 397.5V403.6M680.1 397.5h2M680.1 403.6h2" stroke="#ff0000" stroke-width="0.7" fill="none"/><circle cx="681.1" cy="400.5" r="1.25" fill="#ff0000"/><path d="M681.9 404.7V409.8M680.9 404.7h2M680.9 409.8h2" stroke="#ff0000" stroke-width="0.7" fill="none"/><circle cx="681.9" cy="407.3" r="1.25" fill="#ff0000"/><path d="M684.4 401.5V409.2M683.4 401.5h2M683.4 409.2h2" stroke="#ff0000" stroke-width="0.7" fill="none"/><circle cx="684.4" cy="405.4" r="1.25" fill="#ff0000"/><path d="M684.2 401.2V406.9M683.2 401.2h2M683.2 406.9h2" stroke="#ff0000" stroke-width="0.7" fill="none"/><circle cx="684.2" cy="404.1" r="1.25" fill="#ff0000"/><path d="M680.6 397.9V405.4M679.6 397.9h2M679.6 405.4h2" stroke="#ff0000" stroke-width="0.7" fill="none"/><circle cx="680.6" cy="401.6" r="1.25" fill="#ff0000"/><path d="M678.6 396.3V403.7M677.6 396.3h2M677.6 403.7h2" stroke="#ff0000" stroke-width="0.7" fill="none"/><circle cx="678.6" cy="400.0" r="1.25" fill="#ff0000"/><path d="M718.8 359.4V363.9M717.8 359.4h2M717.8 363.9h2" stroke="#ff0000" stroke-width="0.7" fill="none"/><circle cx="718.8" cy="361.6" r="1.25" fill="#ff0000"/><path d="M720.4 356.7V365.1M719.4 356.7h2M719.4 365.1h2" stroke="#ff0000" stroke-width="0.7" fill="none"/><circle cx="720.4" cy="360.9" r="1.25" fill="#ff0000"/><path d="M722.1 359.1V364.6M721.1 359.1h2M721.1 364.6h2" stroke="#ff0000" stroke-width="0.7" fill="none"/><circle cx="722.1" cy="361.9" r="1.25" fill="#ff0000"/><path d="M717.9 359.8V366.2M716.9 359.8h2M716.9 366.2h2" stroke="#ff0000" stroke-width="0.7" fill="none"/><circle cx="717.9" cy="363.0" r="1.25" fill="#ff0000"/><path d="M721.2 357.7V363.1M720.2 357.7h2M720.2 363.1h2" stroke="#ff0000" stroke-width="0.7" fill="none"/><circle cx="721.2" cy="360.4" r="1.25" fill="#ff0000"/><path d="M719.7 360.0V367.1M718.7 360.0h2M718.7 367.1h2" stroke="#ff0000" stroke-width="0.7" fill="none"/><circle cx="719.7" cy="363.5" r="1.25" fill="#ff0000"/><path d="M721.4 358.7V365.7M720.4 358.7h2M720.4 365.7h2" stroke="#ff0000" stroke-width="0.7" fill="none"/><circle cx="721.4" cy="362.2" r="1.25" fill="#ff0000"/><path d="M718.1 364.3V369.9M717.1 364.3h2M717.1 369.9h2" stroke="#ff0000" stroke-width="0.7" fill="none"/><circle cx="718.1" cy="367.1" r="1.25" fill="#ff0000"/><path d="M720.4 357.4V364.7M719.4 357.4h2M719.4 364.7h2" stroke="#ff0000" stroke-width="0.7" fill="none"/><circle cx="720.4" cy="361.1" r="1.25" fill="#ff0000"/><path d="M718.5 360.4V365.7M717.5 360.4h2M717.5 365.7h2" stroke="#ff0000" stroke-width="0.7" fill="none"/><circle cx="718.5" cy="363.0" r="1.25" fill="#ff0000"/><path d="M737.5 337.5V344.2M736.5 337.5h2M736.5 344.2h2" stroke="#ff0000" stroke-width="0.7" fill="none"/><circle cx="737.5" cy="340.9" r="1.25" fill="#ff0000"/><path d="M739.3 329.6V338.0M738.3 329.6h2M738.3 338.0h2" stroke="#ff0000" stroke-width="0.7" fill="none"/><circle cx="739.3" cy="333.8" r="1.25" fill="#ff0000"/><path d="M741.1 325.4V333.0M740.1 325.4h2M740.1 333.0h2" stroke="#ff0000" stroke-width="0.7" fill="none"/><circle cx="741.1" cy="329.2" r="1.25" fill="#ff0000"/><path d="M742.5 332.4V337.2M741.5 332.4h2M741.5 337.2h2" stroke="#ff0000" stroke-width="0.7" fill="none"/><circle cx="742.5" cy="334.8" r="1.25" fill="#ff0000"/><path d="M740.7 331.7V339.4M739.7 331.7h2M739.7 339.4h2" stroke="#ff0000" stroke-width="0.7" fill="none"/><circle cx="740.7" cy="335.6" r="1.25" fill="#ff0000"/><path d="M745.1 317.2V322.8M744.1 317.2h2M744.1 322.8h2" stroke="#ff0000" stroke-width="0.7" fill="none"/><circle cx="745.1" cy="320.0" r="1.25" fill="#ff0000"/><path d="M737.2 331.3V339.6M736.2 331.3h2M736.2 339.6h2" stroke="#ff0000" stroke-width="0.7" fill="none"/><circle cx="737.2" cy="335.5" r="1.25" fill="#ff0000"/><path d="M741.8 332.2V338.1M740.8 332.2h2M740.8 338.1h2" stroke="#ff0000" stroke-width="0.7" fill="none"/><circle cx="741.8" cy="335.1" r="1.25" fill="#ff0000"/><path d="M744.7 322.8V328.3M743.7 322.8h2M743.7 328.3h2" stroke="#ff0000" stroke-width="0.7" fill="none"/><circle cx="744.7" cy="325.6" r="1.25" fill="#ff0000"/><path d="M743.8 330.1V334.9M742.8 330.1h2M742.8 334.9h2" stroke="#ff0000" stroke-width="0.7" fill="none"/><circle cx="743.8" cy="332.5" r="1.25" fill="#ff0000"/><path d="M742.0 329.1V334.3M741.0 329.1h2M741.0 334.3h2" stroke="#ff0000" stroke-width="0.7" fill="none"/><circle cx="742.0" cy="331.7" r="1.25" fill="#ff0000"/><path d="M739.7 328.1V333.3M738.7 328.1h2M738.7 333.3h2" stroke="#ff0000" stroke-width="0.7" fill="none"/><circle cx="739.7" cy="330.7" r="1.25" fill="#ff0000"/><path d="M738.5 333.3V340.3M737.5 333.3h2M737.5 340.3h2" stroke="#ff0000" stroke-width="0.7" fill="none"/><circle cx="738.5" cy="336.8" r="1.25" fill="#ff0000"/><path d="M738.0 329.6V335.3M737.0 329.6h2M737.0 335.3h2" stroke="#ff0000" stroke-width="0.7" fill="none"/><circle cx="738.0" cy="332.4" r="1.25" fill="#ff0000"/><path d="M742.8 322.9V328.6M741.8 322.9h2M741.8 328.6h2" stroke="#ff0000" stroke-width="0.7" fill="none"/><circle cx="742.8" cy="325.8" r="1.25" fill="#ff0000"/><path d="M738.0 336.1V342.6M737.0 336.1h2M737.0 342.6h2" stroke="#ff0000" stroke-width="0.7" fill="none"/><circle cx="738.0" cy="339.3" r="1.25" fill="#ff0000"/><path d="M736.6 332.7V338.7M735.6 332.7h2M735.6 338.7h2" stroke="#ff0000" stroke-width="0.7" fill="none"/><circle cx="736.6" cy="335.7" r="1.25" fill="#ff0000"/><path d="M741.5 330.2V335.0M740.5 330.2h2M740.5 335.0h2" stroke="#ff0000" stroke-width="0.7" fill="none"/><circle cx="741.5" cy="332.6" r="1.25" fill="#ff0000"/><path d="M737.6 336.1V342.1M736.6 336.1h2M736.6 342.1h2" stroke="#ff0000" stroke-width="0.7" fill="none"/><circle cx="737.6" cy="339.1" r="1.25" fill="#ff0000"/><path d="M738.8 329.6V337.8M737.8 329.6h2M737.8 337.8h2" stroke="#ff0000" stroke-width="0.7" fill="none"/><circle cx="738.8" cy="333.7" r="1.25" fill="#ff0000"/><path d="M739.1 332.7V338.5M738.1 332.7h2M738.1 338.5h2" stroke="#ff0000" stroke-width="0.7" fill="none"/><circle cx="739.1" cy="335.6" r="1.25" fill="#ff0000"/><path d="M740.2 332.7V341.1M739.2 332.7h2M739.2 341.1h2" stroke="#ff0000" stroke-width="0.7" fill="none"/><circle cx="740.2" cy="336.9" r="1.25" fill="#ff0000"/><path d="M739.6 327.7V335.0M738.6 327.7h2M738.6 335.0h2" stroke="#ff0000" stroke-width="0.7" fill="none"/><circle cx="739.6" cy="331.3" r="1.25" fill="#ff0000"/><path d="M738.0 328.4V336.4M737.0 328.4h2M737.0 336.4h2" stroke="#ff0000" stroke-width="0.7" fill="none"/><circle cx="738.0" cy="332.4" r="1.25" fill="#ff0000"/><path d="M446.3 357.5V363.5M445.3 357.5h2M445.3 363.5h2" stroke="#0000ff" stroke-width="0.7" fill="none"/><circle cx="446.3" cy="360.5" r="1.25" fill="#0000ff"/><path d="M449.2 352.9V358.0M448.2 352.9h2M448.2 358.0h2" stroke="#0000ff" stroke-width="0.7" fill="none"/><circle cx="449.2" cy="355.5" r="1.25" fill="#0000ff"/><path d="M443.6 353.2V360.2M442.6 353.2h2M442.6 360.2h2" stroke="#0000ff" stroke-width="0.7" fill="none"/><circle cx="443.6" cy="356.7" r="1.25" fill="#0000ff"/><path d="M449.4 346.8V353.7M448.4 346.8h2M448.4 353.7h2" stroke="#0000ff" stroke-width="0.7" fill="none"/><circle cx="449.4" cy="350.2" r="1.25" fill="#0000ff"/><path d="M445.9 353.6V358.6M444.9 353.6h2M444.9 358.6h2" stroke="#0000ff" stroke-width="0.7" fill="none"/><circle cx="445.9" cy="356.1" r="1.25" fill="#0000ff"/><path d="M445.3 352.2V360.3M444.3 352.2h2M444.3 360.3h2" stroke="#0000ff" stroke-width="0.7" fill="none"/><circle cx="445.3" cy="356.3" r="1.25" fill="#0000ff"/><path d="M444.2 352.1V359.7M443.2 352.1h2M443.2 359.7h2" stroke="#0000ff" stroke-width="0.7" fill="none"/><circle cx="444.2" cy="355.9" r="1.25" fill="#0000ff"/><path d="M449.8 349.3V354.2M448.8 349.3h2M448.8 354.2h2" stroke="#0000ff" stroke-width="0.7" fill="none"/><circle cx="449.8" cy="351.8" r="1.25" fill="#0000ff"/><path d="M449.6 359.5V365.8M448.6 359.5h2M448.6 365.8h2" stroke="#0000ff" stroke-width="0.7" fill="none"/><circle cx="449.6" cy="362.7" r="1.25" fill="#0000ff"/><path d="M443.8 359.0V364.9M442.8 359.0h2M442.8 364.9h2" stroke="#0000ff" stroke-width="0.7" fill="none"/><circle cx="443.8" cy="362.0" r="1.25" fill="#0000ff"/><path d="M449.4 353.8V361.5M448.4 353.8h2M448.4 361.5h2" stroke="#0000ff" stroke-width="0.7" fill="none"/><circle cx="449.4" cy="357.7" r="1.25" fill="#0000ff"/><path d="M444.5 357.4V362.6M443.5 357.4h2M443.5 362.6h2" stroke="#0000ff" stroke-width="0.7" fill="none"/><circle cx="444.5" cy="360.0" r="1.25" fill="#0000ff"/><path d="M446.1 357.0V364.7M445.1 357.0h2M445.1 364.7h2" stroke="#0000ff" stroke-width="0.7" fill="none"/><circle cx="446.1" cy="360.8" r="1.25" fill="#0000ff"/><path d="M454.8 351.8V357.8M453.8 351.8h2M453.8 357.8h2" stroke="#0000ff" stroke-width="0.7" fill="none"/><circle cx="454.8" cy="354.8" r="1.25" fill="#0000ff"/><path d="M457.1 354.5V359.4M456.1 354.5h2M456.1 359.4h2" stroke="#0000ff" stroke-width="0.7" fill="none"/><circle cx="457.1" cy="357.0" r="1.25" fill="#0000ff"/><path d="M455.2 357.4V365.4M454.2 357.4h2M454.2 365.4h2" stroke="#0000ff" stroke-width="0.7" fill="none"/><circle cx="455.2" cy="361.4" r="1.25" fill="#0000ff"/><path d="M453.8 355.6V363.0M452.8 355.6h2M452.8 363.0h2" stroke="#0000ff" stroke-width="0.7" fill="none"/><circle cx="453.8" cy="359.3" r="1.25" fill="#0000ff"/><path d="M453.8 360.5V365.3M452.8 360.5h2M452.8 365.3h2" stroke="#0000ff" stroke-width="0.7" fill="none"/><circle cx="453.8" cy="362.9" r="1.25" fill="#0000ff"/><path d="M457.7 355.7V362.6M456.7 355.7h2M456.7 362.6h2" stroke="#0000ff" stroke-width="0.7" fill="none"/><circle cx="457.7" cy="359.2" r="1.25" fill="#0000ff"/><path d="M455.6 354.1V360.8M454.6 354.1h2M454.6 360.8h2" stroke="#0000ff" stroke-width="0.7" fill="none"/><circle cx="455.6" cy="357.5" r="1.25" fill="#0000ff"/><path d="M456.5 357.5V363.7M455.5 357.5h2M455.5 363.7h2" stroke="#0000ff" stroke-width="0.7" fill="none"/><circle cx="456.5" cy="360.6" r="1.25" fill="#0000ff"/><path d="M456.6 348.9V355.7M455.6 348.9h2M455.6 355.7h2" stroke="#0000ff" stroke-width="0.7" fill="none"/><circle cx="456.6" cy="352.3" r="1.25" fill="#0000ff"/><path d="M456.9 351.3V358.8M455.9 351.3h2M455.9 358.8h2" stroke="#0000ff" stroke-width="0.7" fill="none"/><circle cx="456.9" cy="355.1" r="1.25" fill="#0000ff"/><path d="M459.0 355.4V360.5M458.0 355.4h2M458.0 360.5h2" stroke="#0000ff" stroke-width="0.7" fill="none"/><circle cx="459.0" cy="358.0" r="1.25" fill="#0000ff"/><path d="M456.8 350.9V355.8M455.8 350.9h2M455.8 355.8h2" stroke="#0000ff" stroke-width="0.7" fill="none"/><circle cx="456.8" cy="353.4" r="1.25" fill="#0000ff"/><path d="M456.5 350.1V356.3M455.5 350.1h2M455.5 356.3h2" stroke="#0000ff" stroke-width="0.7" fill="none"/><circle cx="456.5" cy="353.2" r="1.25" fill="#0000ff"/><path d="M457.1 349.1V356.0M456.1 349.1h2M456.1 356.0h2" stroke="#0000ff" stroke-width="0.7" fill="none"/><circle cx="457.1" cy="352.5" r="1.25" fill="#0000ff"/><path d="M454.1 357.8V365.3M453.1 357.8h2M453.1 365.3h2" stroke="#0000ff" stroke-width="0.7" fill="none"/><circle cx="454.1" cy="361.5" r="1.25" fill="#0000ff"/><path d="M457.1 349.5V355.9M456.1 349.5h2M456.1 355.9h2" stroke="#0000ff" stroke-width="0.7" fill="none"/><circle cx="457.1" cy="352.7" r="1.25" fill="#0000ff"/><path d="M475.4 410.5V415.5M474.4 410.5h2M474.4 415.5h2" stroke="#0000ff" stroke-width="0.7" fill="none"/><circle cx="475.4" cy="413.0" r="1.25" fill="#0000ff"/><path d="M482.8 434.9V442.2M481.8 434.9h2M481.8 442.2h2" stroke="#0000ff" stroke-width="0.7" fill="none"/><circle cx="482.8" cy="438.5" r="1.25" fill="#0000ff"/><path d="M482.1 422.2V430.6M481.1 422.2h2M481.1 430.6h2" stroke="#0000ff" stroke-width="0.7" fill="none"/><circle cx="482.1" cy="426.4" r="1.25" fill="#0000ff"/><path d="M477.1 415.0V423.0M476.1 415.0h2M476.1 423.0h2" stroke="#0000ff" stroke-width="0.7" fill="none"/><circle cx="477.1" cy="419.0" r="1.25" fill="#0000ff"/><path d="M472.1 395.6V403.8M471.1 395.6h2M471.1 403.8h2" stroke="#0000ff" stroke-width="0.7" fill="none"/><circle cx="472.1" cy="399.7" r="1.25" fill="#0000ff"/><path d="M470.5 384.7V392.1M469.5 384.7h2M469.5 392.1h2" stroke="#0000ff" stroke-width="0.7" fill="none"/><circle cx="470.5" cy="388.4" r="1.25" fill="#0000ff"/><path d="M472.0 398.1V403.6M471.0 398.1h2M471.0 403.6h2" stroke="#0000ff" stroke-width="0.7" fill="none"/><circle cx="472.0" cy="400.8" r="1.25" fill="#0000ff"/><path d="M482.1 422.6V429.0M481.1 422.6h2M481.1 429.0h2" stroke="#0000ff" stroke-width="0.7" fill="none"/><circle cx="482.1" cy="425.8" r="1.25" fill="#0000ff"/><path d="M483.8 429.5V434.9M482.8 429.5h2M482.8 434.9h2" stroke="#0000ff" stroke-width="0.7" fill="none"/><circle cx="483.8" cy="432.2" r="1.25" fill="#0000ff"/><path d="M477.3 409.2V413.7M476.3 409.2h2M476.3 413.7h2" stroke="#0000ff" stroke-width="0.7" fill="none"/><circle cx="477.3" cy="411.5" r="1.25" fill="#0000ff"/><path d="M472.3 388.0V396.1M471.3 388.0h2M471.3 396.1h2" stroke="#0000ff" stroke-width="0.7" fill="none"/><circle cx="472.3" cy="392.0" r="1.25" fill="#0000ff"/><path d="M480.0 425.5V430.6M479.0 425.5h2M479.0 430.6h2" stroke="#0000ff" stroke-width="0.7" fill="none"/><circle cx="480.0" cy="428.0" r="1.25" fill="#0000ff"/><path d="M481.7 420.6V427.1M480.7 420.6h2M480.7 427.1h2" stroke="#0000ff" stroke-width="0.7" fill="none"/><circle cx="481.7" cy="423.8" r="1.25" fill="#0000ff"/><path d="M479.4 415.0V422.9M478.4 415.0h2M478.4 422.9h2" stroke="#0000ff" stroke-width="0.7" fill="none"/><circle cx="479.4" cy="418.9" r="1.25" fill="#0000ff"/><path d="M478.1 413.5V421.4M477.1 413.5h2M477.1 421.4h2" stroke="#0000ff" stroke-width="0.7" fill="none"/><circle cx="478.1" cy="417.5" r="1.25" fill="#0000ff"/><path d="M471.1 395.9V402.8M470.1 395.9h2M470.1 402.8h2" stroke="#0000ff" stroke-width="0.7" fill="none"/><circle cx="471.1" cy="399.3" r="1.25" fill="#0000ff"/><path d="M475.6 409.1V414.6M474.6 409.1h2M474.6 414.6h2" stroke="#0000ff" stroke-width="0.7" fill="none"/><circle cx="475.6" cy="411.8" r="1.25" fill="#0000ff"/><path d="M484.9 437.5V443.3M483.9 437.5h2M483.9 443.3h2" stroke="#0000ff" stroke-width="0.7" fill="none"/><circle cx="484.9" cy="440.4" r="1.25" fill="#0000ff"/><path d="M481.4 424.3V429.4M480.4 424.3h2M480.4 429.4h2" stroke="#0000ff" stroke-width="0.7" fill="none"/><circle cx="481.4" cy="426.8" r="1.25" fill="#0000ff"/><path d="M481.0 416.9V424.6M480.0 416.9h2M480.0 424.6h2" stroke="#0000ff" stroke-width="0.7" fill="none"/><circle cx="481.0" cy="420.8" r="1.25" fill="#0000ff"/><path d="M473.4 398.2V406.5M472.4 398.2h2M472.4 406.5h2" stroke="#0000ff" stroke-width="0.7" fill="none"/><circle cx="473.4" cy="402.3" r="1.25" fill="#0000ff"/><path d="M478.6 417.3V423.0M477.6 417.3h2M477.6 423.0h2" stroke="#0000ff" stroke-width="0.7" fill="none"/><circle cx="478.6" cy="420.2" r="1.25" fill="#0000ff"/><path d="M469.5 378.1V383.1M468.5 378.1h2M468.5 383.1h2" stroke="#0000ff" stroke-width="0.7" fill="none"/><circle cx="469.5" cy="380.6" r="1.25" fill="#0000ff"/><path d="M479.0 415.6V422.0M478.0 415.6h2M478.0 422.0h2" stroke="#0000ff" stroke-width="0.7" fill="none"/><circle cx="479.0" cy="418.8" r="1.25" fill="#0000ff"/><path d="M483.4 427.3V432.6M482.4 427.3h2M482.4 432.6h2" stroke="#0000ff" stroke-width="0.7" fill="none"/><circle cx="483.4" cy="430.0" r="1.25" fill="#0000ff"/><path d="M479.6 413.3V417.8M478.6 413.3h2M478.6 417.8h2" stroke="#0000ff" stroke-width="0.7" fill="none"/><circle cx="479.6" cy="415.6" r="1.25" fill="#0000ff"/><path d="M475.0 397.7V403.5M474.0 397.7h2M474.0 403.5h2" stroke="#0000ff" stroke-width="0.7" fill="none"/><circle cx="475.0" cy="400.6" r="1.25" fill="#0000ff"/><path d="M473.0 396.6V403.4M472.0 396.6h2M472.0 403.4h2" stroke="#0000ff" stroke-width="0.7" fill="none"/><circle cx="473.0" cy="400.0" r="1.25" fill="#0000ff"/><path d="M472.7 396.4V402.7M471.7 396.4h2M471.7 402.7h2" stroke="#0000ff" stroke-width="0.7" fill="none"/><circle cx="472.7" cy="399.5" r="1.25" fill="#0000ff"/><path d="M471.6 397.4V402.8M470.6 397.4h2M470.6 402.8h2" stroke="#0000ff" stroke-width="0.7" fill="none"/><circle cx="471.6" cy="400.1" r="1.25" fill="#0000ff"/><path d="M471.8 385.9V392.9M470.8 385.9h2M470.8 392.9h2" stroke="#0000ff" stroke-width="0.7" fill="none"/><circle cx="471.8" cy="389.4" r="1.25" fill="#0000ff"/><path d="M483.0 433.6V439.6M482.0 433.6h2M482.0 439.6h2" stroke="#0000ff" stroke-width="0.7" fill="none"/><circle cx="483.0" cy="436.6" r="1.25" fill="#0000ff"/><path d="M473.6 390.9V397.9M472.6 390.9h2M472.6 397.9h2" stroke="#0000ff" stroke-width="0.7" fill="none"/><circle cx="473.6" cy="394.4" r="1.25" fill="#0000ff"/><path d="M478.2 411.4V418.4M477.2 411.4h2M477.2 418.4h2" stroke="#0000ff" stroke-width="0.7" fill="none"/><circle cx="478.2" cy="414.9" r="1.25" fill="#0000ff"/><path d="M476.4 412.6V419.9M475.4 412.6h2M475.4 419.9h2" stroke="#0000ff" stroke-width="0.7" fill="none"/><circle cx="476.4" cy="416.3" r="1.25" fill="#0000ff"/><path d="M473.4 403.3V407.9M472.4 403.3h2M472.4 407.9h2" stroke="#0000ff" stroke-width="0.7" fill="none"/><circle cx="473.4" cy="405.6" r="1.25" fill="#0000ff"/><path d="M477.7 411.3V416.6M476.7 411.3h2M476.7 416.6h2" stroke="#0000ff" stroke-width="0.7" fill="none"/><circle cx="477.7" cy="414.0" r="1.25" fill="#0000ff"/><path d="M470.4 391.7V396.2M469.4 391.7h2M469.4 396.2h2" stroke="#0000ff" stroke-width="0.7" fill="none"/><circle cx="470.4" cy="394.0" r="1.25" fill="#0000ff"/><path d="M478.0 419.4V424.4M477.0 419.4h2M477.0 424.4h2" stroke="#0000ff" stroke-width="0.7" fill="none"/><circle cx="478.0" cy="421.9" r="1.25" fill="#0000ff"/><path d="M472.6 395.8V402.3M471.6 395.8h2M471.6 402.3h2" stroke="#0000ff" stroke-width="0.7" fill="none"/><circle cx="472.6" cy="399.0" r="1.25" fill="#0000ff"/><path d="M479.4 422.4V427.5M478.4 422.4h2M478.4 427.5h2" stroke="#0000ff" stroke-width="0.7" fill="none"/><circle cx="479.4" cy="425.0" r="1.25" fill="#0000ff"/><path d="M474.3 398.4V403.0M473.3 398.4h2M473.3 403.0h2" stroke="#0000ff" stroke-width="0.7" fill="none"/><circle cx="474.3" cy="400.7" r="1.25" fill="#0000ff"/><path d="M483.3 434.0V441.2M482.3 434.0h2M482.3 441.2h2" stroke="#0000ff" stroke-width="0.7" fill="none"/><circle cx="483.3" cy="437.6" r="1.25" fill="#0000ff"/><path d="M469.6 388.5V395.8M468.6 388.5h2M468.6 395.8h2" stroke="#0000ff" stroke-width="0.7" fill="none"/><circle cx="469.6" cy="392.2" r="1.25" fill="#0000ff"/><path d="M491.9 463.6V469.8M490.9 463.6h2M490.9 469.8h2" stroke="#0000ff" stroke-width="0.7" fill="none"/><circle cx="491.9" cy="466.7" r="1.25" fill="#0000ff"/><path d="M489.6 444.7V450.0M488.6 444.7h2M488.6 450.0h2" stroke="#0000ff" stroke-width="0.7" fill="none"/><circle cx="489.6" cy="447.4" r="1.25" fill="#0000ff"/><path d="M487.9 450.4V457.8M486.9 450.4h2M486.9 457.8h2" stroke="#0000ff" stroke-width="0.7" fill="none"/><circle cx="487.9" cy="454.1" r="1.25" fill="#0000ff"/><path d="M494.1 467.4V474.7M493.1 467.4h2M493.1 474.7h2" stroke="#0000ff" stroke-width="0.7" fill="none"/><circle cx="494.1" cy="471.0" r="1.25" fill="#0000ff"/><path d="M490.0 457.4V463.6M489.0 457.4h2M489.0 463.6h2" stroke="#0000ff" stroke-width="0.7" fill="none"/><circle cx="490.0" cy="460.5" r="1.25" fill="#0000ff"/><path d="M495.0 457.7V463.2M494.0 457.7h2M494.0 463.2h2" stroke="#0000ff" stroke-width="0.7" fill="none"/><circle cx="495.0" cy="460.5" r="1.25" fill="#0000ff"/><path d="M493.6 472.1V477.3M492.6 472.1h2M492.6 477.3h2" stroke="#0000ff" stroke-width="0.7" fill="none"/><circle cx="493.6" cy="474.7" r="1.25" fill="#0000ff"/><path d="M495.9 440.2V445.6M494.9 440.2h2M494.9 445.6h2" stroke="#0000ff" stroke-width="0.7" fill="none"/><circle cx="495.9" cy="442.9" r="1.25" fill="#0000ff"/><path d="M489.7 461.9V470.0M488.7 461.9h2M488.7 470.0h2" stroke="#0000ff" stroke-width="0.7" fill="none"/><circle cx="489.7" cy="466.0" r="1.25" fill="#0000ff"/><path d="M494.6 449.8V457.7M493.6 449.8h2M493.6 457.7h2" stroke="#0000ff" stroke-width="0.7" fill="none"/><circle cx="494.6" cy="453.8" r="1.25" fill="#0000ff"/><path d="M490.6 447.2V455.2M489.6 447.2h2M489.6 455.2h2" stroke="#0000ff" stroke-width="0.7" fill="none"/><circle cx="490.6" cy="451.2" r="1.25" fill="#0000ff"/><path d="M493.5 462.2V469.3M492.5 462.2h2M492.5 469.3h2" stroke="#0000ff" stroke-width="0.7" fill="none"/><circle cx="493.5" cy="465.7" r="1.25" fill="#0000ff"/><path d="M496.8 455.0V462.8M495.8 455.0h2M495.8 462.8h2" stroke="#0000ff" stroke-width="0.7" fill="none"/><circle cx="496.8" cy="458.9" r="1.25" fill="#0000ff"/><path d="M494.1 468.4V474.5M493.1 468.4h2M493.1 474.5h2" stroke="#0000ff" stroke-width="0.7" fill="none"/><circle cx="494.1" cy="471.4" r="1.25" fill="#0000ff"/><path d="M494.4 459.1V464.8M493.4 459.1h2M493.4 464.8h2" stroke="#0000ff" stroke-width="0.7" fill="none"/><circle cx="494.4" cy="461.9" r="1.25" fill="#0000ff"/><path d="M489.5 460.0V464.7M488.5 460.0h2M488.5 464.7h2" stroke="#0000ff" stroke-width="0.7" fill="none"/><circle cx="489.5" cy="462.4" r="1.25" fill="#0000ff"/><path d="M496.2 445.1V449.6M495.2 445.1h2M495.2 449.6h2" stroke="#0000ff" stroke-width="0.7" fill="none"/><circle cx="496.2" cy="447.4" r="1.25" fill="#0000ff"/><path d="M488.5 467.8V473.5M487.5 467.8h2M487.5 473.5h2" stroke="#0000ff" stroke-width="0.7" fill="none"/><circle cx="488.5" cy="470.7" r="1.25" fill="#0000ff"/><path d="M488.8 443.1V447.7M487.8 443.1h2M487.8 447.7h2" stroke="#0000ff" stroke-width="0.7" fill="none"/><circle cx="488.8" cy="445.4" r="1.25" fill="#0000ff"/><path d="M494.1 460.4V467.6M493.1 460.4h2M493.1 467.6h2" stroke="#0000ff" stroke-width="0.7" fill="none"/><circle cx="494.1" cy="464.0" r="1.25" fill="#0000ff"/><path d="M494.5 441.6V448.4M493.5 441.6h2M493.5 448.4h2" stroke="#0000ff" stroke-width="0.7" fill="none"/><circle cx="494.5" cy="445.0" r="1.25" fill="#0000ff"/><path d="M491.0 464.8V472.5M490.0 464.8h2M490.0 472.5h2" stroke="#0000ff" stroke-width="0.7" fill="none"/><circle cx="491.0" cy="468.7" r="1.25" fill="#0000ff"/><path d="M496.0 440.7V448.6M495.0 440.7h2M495.0 448.6h2" stroke="#0000ff" stroke-width="0.7" fill="none"/><circle cx="496.0" cy="444.6" r="1.25" fill="#0000ff"/><path d="M496.2 473.1V477.9M495.2 473.1h2M495.2 477.9h2" stroke="#0000ff" stroke-width="0.7" fill="none"/><circle cx="496.2" cy="475.5" r="1.25" fill="#0000ff"/><path d="M489.5 445.3V449.9M488.5 445.3h2M488.5 449.9h2" stroke="#0000ff" stroke-width="0.7" fill="none"/><circle cx="489.5" cy="447.6" r="1.25" fill="#0000ff"/><path d="M495.6 467.1V474.0M494.6 467.1h2M494.6 474.0h2" stroke="#0000ff" stroke-width="0.7" fill="none"/><circle cx="495.6" cy="470.6" r="1.25" fill="#0000ff"/><path d="M503.9 421.3V426.8M502.9 421.3h2M502.9 426.8h2" stroke="#0000ff" stroke-width="0.7" fill="none"/><circle cx="503.9" cy="424.1" r="1.25" fill="#0000ff"/><path d="M499.1 427.6V435.1M498.1 427.6h2M498.1 435.1h2" stroke="#0000ff" stroke-width="0.7" fill="none"/><circle cx="499.1" cy="431.4" r="1.25" fill="#0000ff"/><path d="M499.8 428.7V434.8M498.8 428.7h2M498.8 434.8h2" stroke="#0000ff" stroke-width="0.7" fill="none"/><circle cx="499.8" cy="431.8" r="1.25" fill="#0000ff"/><path d="M498.6 431.5V437.0M497.6 431.5h2M497.6 437.0h2" stroke="#0000ff" stroke-width="0.7" fill="none"/><circle cx="498.6" cy="434.2" r="1.25" fill="#0000ff"/><path d="M503.2 420.9V426.5M502.2 420.9h2M502.2 426.5h2" stroke="#0000ff" stroke-width="0.7" fill="none"/><circle cx="503.2" cy="423.7" r="1.25" fill="#0000ff"/><path d="M504.8 416.7V424.5M503.8 416.7h2M503.8 424.5h2" stroke="#0000ff" stroke-width="0.7" fill="none"/><circle cx="504.8" cy="420.6" r="1.25" fill="#0000ff"/><path d="M502.5 419.4V425.4M501.5 419.4h2M501.5 425.4h2" stroke="#0000ff" stroke-width="0.7" fill="none"/><circle cx="502.5" cy="422.4" r="1.25" fill="#0000ff"/><path d="M501.3 429.2V435.0M500.3 429.2h2M500.3 435.0h2" stroke="#0000ff" stroke-width="0.7" fill="none"/><circle cx="501.3" cy="432.1" r="1.25" fill="#0000ff"/><path d="M503.1 422.7V428.0M502.1 422.7h2M502.1 428.0h2" stroke="#0000ff" stroke-width="0.7" fill="none"/><circle cx="503.1" cy="425.3" r="1.25" fill="#0000ff"/><path d="M504.1 415.1V422.8M503.1 415.1h2M503.1 422.8h2" stroke="#0000ff" stroke-width="0.7" fill="none"/><circle cx="504.1" cy="419.0" r="1.25" fill="#0000ff"/><path d="M499.6 426.7V431.9M498.6 426.7h2M498.6 431.9h2" stroke="#0000ff" stroke-width="0.7" fill="none"/><circle cx="499.6" cy="429.3" r="1.25" fill="#0000ff"/><path d="M503.5 425.9V430.3M502.5 425.9h2M502.5 430.3h2" stroke="#0000ff" stroke-width="0.7" fill="none"/><circle cx="503.5" cy="428.1" r="1.25" fill="#0000ff"/><path d="M501.7 424.8V432.4M500.7 424.8h2M500.7 432.4h2" stroke="#0000ff" stroke-width="0.7" fill="none"/><circle cx="501.7" cy="428.6" r="1.25" fill="#0000ff"/><path d="M499.7 430.9V436.7M498.7 430.9h2M498.7 436.7h2" stroke="#0000ff" stroke-width="0.7" fill="none"/><circle cx="499.7" cy="433.8" r="1.25" fill="#0000ff"/><path d="M506.6 450.3V458.5M505.6 450.3h2M505.6 458.5h2" stroke="#0000ff" stroke-width="0.7" fill="none"/><circle cx="506.6" cy="454.4" r="1.25" fill="#0000ff"/><path d="M501.9 450.2V457.4M500.9 450.2h2M500.9 457.4h2" stroke="#0000ff" stroke-width="0.7" fill="none"/><circle cx="501.9" cy="453.8" r="1.25" fill="#0000ff"/><path d="M503.7 449.0V455.9M502.7 449.0h2M502.7 455.9h2" stroke="#0000ff" stroke-width="0.7" fill="none"/><circle cx="503.7" cy="452.4" r="1.25" fill="#0000ff"/><path d="M500.2 457.6V464.8M499.2 457.6h2M499.2 464.8h2" stroke="#0000ff" stroke-width="0.7" fill="none"/><circle cx="500.2" cy="461.2" r="1.25" fill="#0000ff"/><path d="M506.2 456.3V462.1M505.2 456.3h2M505.2 462.1h2" stroke="#0000ff" stroke-width="0.7" fill="none"/><circle cx="506.2" cy="459.2" r="1.25" fill="#0000ff"/><path d="M502.9 452.1V460.1M501.9 452.1h2M501.9 460.1h2" stroke="#0000ff" stroke-width="0.7" fill="none"/><circle cx="502.9" cy="456.1" r="1.25" fill="#0000ff"/><path d="M500.2 460.3V464.8M499.2 460.3h2M499.2 464.8h2" stroke="#0000ff" stroke-width="0.7" fill="none"/><circle cx="500.2" cy="462.5" r="1.25" fill="#0000ff"/><path d="M501.3 450.4V458.4M500.3 450.4h2M500.3 458.4h2" stroke="#0000ff" stroke-width="0.7" fill="none"/><circle cx="501.3" cy="454.4" r="1.25" fill="#0000ff"/><path d="M503.8 452.0V459.9M502.8 452.0h2M502.8 459.9h2" stroke="#0000ff" stroke-width="0.7" fill="none"/><circle cx="503.8" cy="455.9" r="1.25" fill="#0000ff"/><path d="M501.5 453.7V460.3M500.5 453.7h2M500.5 460.3h2" stroke="#0000ff" stroke-width="0.7" fill="none"/><circle cx="501.5" cy="457.0" r="1.25" fill="#0000ff"/><path d="M505.9 457.3V464.3M504.9 457.3h2M504.9 464.3h2" stroke="#0000ff" stroke-width="0.7" fill="none"/><circle cx="505.9" cy="460.8" r="1.25" fill="#0000ff"/><path d="M502.5 452.7V457.8M501.5 452.7h2M501.5 457.8h2" stroke="#0000ff" stroke-width="0.7" fill="none"/><circle cx="502.5" cy="455.2" r="1.25" fill="#0000ff"/><path d="M506.7 455.9V463.3M505.7 455.9h2M505.7 463.3h2" stroke="#0000ff" stroke-width="0.7" fill="none"/><circle cx="506.7" cy="459.6" r="1.25" fill="#0000ff"/><path d="M500.9 453.0V460.5M499.9 453.0h2M499.9 460.5h2" stroke="#0000ff" stroke-width="0.7" fill="none"/><circle cx="500.9" cy="456.7" r="1.25" fill="#0000ff"/><path d="M512.2 425.6V431.9M511.2 425.6h2M511.2 431.9h2" stroke="#0000ff" stroke-width="0.7" fill="none"/><circle cx="512.2" cy="428.8" r="1.25" fill="#0000ff"/><path d="M513.2 427.7V432.9M512.2 427.7h2M512.2 432.9h2" stroke="#0000ff" stroke-width="0.7" fill="none"/><circle cx="513.2" cy="430.3" r="1.25" fill="#0000ff"/><path d="M511.4 433.0V440.7M510.4 433.0h2M510.4 440.7h2" stroke="#0000ff" stroke-width="0.7" fill="none"/><circle cx="511.4" cy="436.8" r="1.25" fill="#0000ff"/><path d="M511.0 426.5V431.9M510.0 426.5h2M510.0 431.9h2" stroke="#0000ff" stroke-width="0.7" fill="none"/><circle cx="511.0" cy="429.2" r="1.25" fill="#0000ff"/><path d="M511.5 431.8V436.8M510.5 431.8h2M510.5 436.8h2" stroke="#0000ff" stroke-width="0.7" fill="none"/><circle cx="511.5" cy="434.3" r="1.25" fill="#0000ff"/><path d="M511.5 425.5V433.8M510.5 425.5h2M510.5 433.8h2" stroke="#0000ff" stroke-width="0.7" fill="none"/><circle cx="511.5" cy="429.6" r="1.25" fill="#0000ff"/><path d="M517.6 412.3V420.6M516.6 412.3h2M516.6 420.6h2" stroke="#0000ff" stroke-width="0.7" fill="none"/><circle cx="517.6" cy="416.4" r="1.25" fill="#0000ff"/><path d="M515.4 416.2V424.5M514.4 416.2h2M514.4 424.5h2" stroke="#0000ff" stroke-width="0.7" fill="none"/><circle cx="515.4" cy="420.4" r="1.25" fill="#0000ff"/><path d="M517.8 422.2V428.3M516.8 422.2h2M516.8 428.3h2" stroke="#0000ff" stroke-width="0.7" fill="none"/><circle cx="517.8" cy="425.3" r="1.25" fill="#0000ff"/><path d="M515.7 421.5V426.3M514.7 421.5h2M514.7 426.3h2" stroke="#0000ff" stroke-width="0.7" fill="none"/><circle cx="515.7" cy="423.9" r="1.25" fill="#0000ff"/><path d="M515.7 418.2V422.7M514.7 418.2h2M514.7 422.7h2" stroke="#0000ff" stroke-width="0.7" fill="none"/><circle cx="515.7" cy="420.4" r="1.25" fill="#0000ff"/><path d="M516.4 422.5V429.7M515.4 422.5h2M515.4 429.7h2" stroke="#0000ff" stroke-width="0.7" fill="none"/><circle cx="516.4" cy="426.1" r="1.25" fill="#0000ff"/><path d="M525.0 424.5V430.8M524.0 424.5h2M524.0 430.8h2" stroke="#0000ff" stroke-width="0.7" fill="none"/><circle cx="525.0" cy="427.6" r="1.25" fill="#0000ff"/><path d="M522.1 432.0V438.0M521.1 432.0h2M521.1 438.0h2" stroke="#0000ff" stroke-width="0.7" fill="none"/><circle cx="522.1" cy="435.0" r="1.25" fill="#0000ff"/><path d="M526.9 422.4V428.5M525.9 422.4h2M525.9 428.5h2" stroke="#0000ff" stroke-width="0.7" fill="none"/><circle cx="526.9" cy="425.5" r="1.25" fill="#0000ff"/><path d="M525.6 424.3V430.3M524.6 424.3h2M524.6 430.3h2" stroke="#0000ff" stroke-width="0.7" fill="none"/><circle cx="525.6" cy="427.3" r="1.25" fill="#0000ff"/><path d="M522.8 430.4V438.3M521.8 430.4h2M521.8 438.3h2" stroke="#0000ff" stroke-width="0.7" fill="none"/><circle cx="522.8" cy="434.4" r="1.25" fill="#0000ff"/><path d="M527.2 418.6V426.4M526.2 418.6h2M526.2 426.4h2" stroke="#0000ff" stroke-width="0.7" fill="none"/><circle cx="527.2" cy="422.5" r="1.25" fill="#0000ff"/><path d="M526.4 420.8V427.0M525.4 420.8h2M525.4 427.0h2" stroke="#0000ff" stroke-width="0.7" fill="none"/><circle cx="526.4" cy="423.9" r="1.25" fill="#0000ff"/><path d="M523.5 429.2V434.0M522.5 429.2h2M522.5 434.0h2" stroke="#0000ff" stroke-width="0.7" fill="none"/><circle cx="523.5" cy="431.6" r="1.25" fill="#0000ff"/><path d="M524.4 427.3V434.5M523.4 427.3h2M523.4 434.5h2" stroke="#0000ff" stroke-width="0.7" fill="none"/><circle cx="524.4" cy="430.9" r="1.25" fill="#0000ff"/><path d="M526.0 417.8V423.9M525.0 417.8h2M525.0 423.9h2" stroke="#0000ff" stroke-width="0.7" fill="none"/><circle cx="526.0" cy="420.8" r="1.25" fill="#0000ff"/><path d="M524.6 425.5V431.5M523.6 425.5h2M523.6 431.5h2" stroke="#0000ff" stroke-width="0.7" fill="none"/><circle cx="524.6" cy="428.5" r="1.25" fill="#0000ff"/><path d="M526.4 424.5V429.6M525.4 424.5h2M525.4 429.6h2" stroke="#0000ff" stroke-width="0.7" fill="none"/><circle cx="526.4" cy="427.1" r="1.25" fill="#0000ff"/><path d="M526.2 422.9V428.9M525.2 422.9h2M525.2 428.9h2" stroke="#0000ff" stroke-width="0.7" fill="none"/><circle cx="526.2" cy="425.9" r="1.25" fill="#0000ff"/><path d="M524.9 429.2V433.7M523.9 429.2h2M523.9 433.7h2" stroke="#0000ff" stroke-width="0.7" fill="none"/><circle cx="524.9" cy="431.4" r="1.25" fill="#0000ff"/><path d="M525.3 418.0V425.5M524.3 418.0h2M524.3 425.5h2" stroke="#0000ff" stroke-width="0.7" fill="none"/><circle cx="525.3" cy="421.7" r="1.25" fill="#0000ff"/><path d="M528.5 414.6V419.4M527.5 414.6h2M527.5 419.4h2" stroke="#0000ff" stroke-width="0.7" fill="none"/><circle cx="528.5" cy="417.0" r="1.25" fill="#0000ff"/><path d="M525.6 421.4V428.7M524.6 421.4h2M524.6 428.7h2" stroke="#0000ff" stroke-width="0.7" fill="none"/><circle cx="525.6" cy="425.1" r="1.25" fill="#0000ff"/><path d="M525.1 423.6V431.3M524.1 423.6h2M524.1 431.3h2" stroke="#0000ff" stroke-width="0.7" fill="none"/><circle cx="525.1" cy="427.5" r="1.25" fill="#0000ff"/><path d="M544.8 372.2V380.4M543.8 372.2h2M543.8 380.4h2" stroke="#0000ff" stroke-width="0.7" fill="none"/><circle cx="544.8" cy="376.3" r="1.25" fill="#0000ff"/><path d="M543.4 381.5V387.5M542.4 381.5h2M542.4 387.5h2" stroke="#0000ff" stroke-width="0.7" fill="none"/><circle cx="543.4" cy="384.5" r="1.25" fill="#0000ff"/><path d="M545.9 363.5V371.8M544.9 363.5h2M544.9 371.8h2" stroke="#0000ff" stroke-width="0.7" fill="none"/><circle cx="545.9" cy="367.7" r="1.25" fill="#0000ff"/><path d="M544.1 362.9V368.4M543.1 362.9h2M543.1 368.4h2" stroke="#0000ff" stroke-width="0.7" fill="none"/><circle cx="544.1" cy="365.7" r="1.25" fill="#0000ff"/><path d="M544.3 361.4V367.4M543.3 361.4h2M543.3 367.4h2" stroke="#0000ff" stroke-width="0.7" fill="none"/><circle cx="544.3" cy="364.4" r="1.25" fill="#0000ff"/><path d="M544.4 382.0V387.9M543.4 382.0h2M543.4 387.9h2" stroke="#0000ff" stroke-width="0.7" fill="none"/><circle cx="544.4" cy="384.9" r="1.25" fill="#0000ff"/><path d="M543.7 367.0V374.4M542.7 367.0h2M542.7 374.4h2" stroke="#0000ff" stroke-width="0.7" fill="none"/><circle cx="543.7" cy="370.7" r="1.25" fill="#0000ff"/><path d="M546.7 377.2V382.5M545.7 377.2h2M545.7 382.5h2" stroke="#0000ff" stroke-width="0.7" fill="none"/><circle cx="546.7" cy="379.8" r="1.25" fill="#0000ff"/><path d="M546.1 373.1V378.4M545.1 373.1h2M545.1 378.4h2" stroke="#0000ff" stroke-width="0.7" fill="none"/><circle cx="546.1" cy="375.8" r="1.25" fill="#0000ff"/><path d="M543.1 383.5V391.1M542.1 383.5h2M542.1 391.1h2" stroke="#0000ff" stroke-width="0.7" fill="none"/><circle cx="543.1" cy="387.3" r="1.25" fill="#0000ff"/><path d="M545.4 374.8V381.4M544.4 374.8h2M544.4 381.4h2" stroke="#0000ff" stroke-width="0.7" fill="none"/><circle cx="545.4" cy="378.1" r="1.25" fill="#0000ff"/><path d="M543.5 390.0V395.8M542.5 390.0h2M542.5 395.8h2" stroke="#0000ff" stroke-width="0.7" fill="none"/><circle cx="543.5" cy="392.9" r="1.25" fill="#0000ff"/><path d="M550.2 379.8V387.5M549.2 379.8h2M549.2 387.5h2" stroke="#0000ff" stroke-width="0.7" fill="none"/><circle cx="550.2" cy="383.6" r="1.25" fill="#0000ff"/><path d="M549.3 367.8V374.4M548.3 367.8h2M548.3 374.4h2" stroke="#0000ff" stroke-width="0.7" fill="none"/><circle cx="549.3" cy="371.1" r="1.25" fill="#0000ff"/><path d="M547.6 381.1V386.9M546.6 381.1h2M546.6 386.9h2" stroke="#0000ff" stroke-width="0.7" fill="none"/><circle cx="547.6" cy="384.0" r="1.25" fill="#0000ff"/><path d="M551.3 367.5V373.4M550.3 367.5h2M550.3 373.4h2" stroke="#0000ff" stroke-width="0.7" fill="none"/><circle cx="551.3" cy="370.4" r="1.25" fill="#0000ff"/><path d="M548.3 371.7V376.8M547.3 371.7h2M547.3 376.8h2" stroke="#0000ff" stroke-width="0.7" fill="none"/><circle cx="548.3" cy="374.2" r="1.25" fill="#0000ff"/><path d="M547.0 378.6V384.1M546.0 378.6h2M546.0 384.1h2" stroke="#0000ff" stroke-width="0.7" fill="none"/><circle cx="547.0" cy="381.3" r="1.25" fill="#0000ff"/><path d="M548.2 368.1V374.4M547.2 368.1h2M547.2 374.4h2" stroke="#0000ff" stroke-width="0.7" fill="none"/><circle cx="548.2" cy="371.2" r="1.25" fill="#0000ff"/><path d="M549.1 375.8V382.8M548.1 375.8h2M548.1 382.8h2" stroke="#0000ff" stroke-width="0.7" fill="none"/><circle cx="549.1" cy="379.3" r="1.25" fill="#0000ff"/><path d="M548.8 382.4V390.2M547.8 382.4h2M547.8 390.2h2" stroke="#0000ff" stroke-width="0.7" fill="none"/><circle cx="548.8" cy="386.3" r="1.25" fill="#0000ff"/><path d="M547.3 379.9V387.9M546.3 379.9h2M546.3 387.9h2" stroke="#0000ff" stroke-width="0.7" fill="none"/><circle cx="547.3" cy="383.9" r="1.25" fill="#0000ff"/><path d="M571.3 342.4V350.1M570.3 342.4h2M570.3 350.1h2" stroke="#0000ff" stroke-width="0.7" fill="none"/><circle cx="571.3" cy="346.3" r="1.25" fill="#0000ff"/><path d="M570.1 342.9V347.4M569.1 342.9h2M569.1 347.4h2" stroke="#0000ff" stroke-width="0.7" fill="none"/><circle cx="570.1" cy="345.1" r="1.25" fill="#0000ff"/><path d="M572.6 348.2V353.6M571.6 348.2h2M571.6 353.6h2" stroke="#0000ff" stroke-width="0.7" fill="none"/><circle cx="572.6" cy="350.9" r="1.25" fill="#0000ff"/><path d="M565.8 343.6V349.0M564.8 343.6h2M564.8 349.0h2" stroke="#0000ff" stroke-width="0.7" fill="none"/><circle cx="565.8" cy="346.3" r="1.25" fill="#0000ff"/><path d="M571.2 345.6V350.6M570.2 345.6h2M570.2 350.6h2" stroke="#0000ff" stroke-width="0.7" fill="none"/><circle cx="571.2" cy="348.1" r="1.25" fill="#0000ff"/><path d="M572.2 349.6V354.7M571.2 349.6h2M571.2 354.7h2" stroke="#0000ff" stroke-width="0.7" fill="none"/><circle cx="572.2" cy="352.1" r="1.25" fill="#0000ff"/><path d="M572.1 346.7V354.2M571.1 346.7h2M571.1 354.2h2" stroke="#0000ff" stroke-width="0.7" fill="none"/><circle cx="572.1" cy="350.5" r="1.25" fill="#0000ff"/><path d="M570.3 349.3V356.8M569.3 349.3h2M569.3 356.8h2" stroke="#0000ff" stroke-width="0.7" fill="none"/><circle cx="570.3" cy="353.0" r="1.25" fill="#0000ff"/><path d="M571.7 343.2V350.4M570.7 343.2h2M570.7 350.4h2" stroke="#0000ff" stroke-width="0.7" fill="none"/><circle cx="571.7" cy="346.8" r="1.25" fill="#0000ff"/><path d="M569.2 348.6V354.8M568.2 348.6h2M568.2 354.8h2" stroke="#0000ff" stroke-width="0.7" fill="none"/><circle cx="569.2" cy="351.7" r="1.25" fill="#0000ff"/><path d="M572.1 347.3V352.7M571.1 347.3h2M571.1 352.7h2" stroke="#0000ff" stroke-width="0.7" fill="none"/><circle cx="572.1" cy="350.0" r="1.25" fill="#0000ff"/><path d="M566.9 343.1V349.4M565.9 343.1h2M565.9 349.4h2" stroke="#0000ff" stroke-width="0.7" fill="none"/><circle cx="566.9" cy="346.3" r="1.25" fill="#0000ff"/><path d="M565.5 346.7V351.7M564.5 346.7h2M564.5 351.7h2" stroke="#0000ff" stroke-width="0.7" fill="none"/><circle cx="565.5" cy="349.2" r="1.25" fill="#0000ff"/><path d="M568.9 346.2V352.8M567.9 346.2h2M567.9 352.8h2" stroke="#0000ff" stroke-width="0.7" fill="none"/><circle cx="568.9" cy="349.5" r="1.25" fill="#0000ff"/><path d="M571.9 341.2V348.9M570.9 341.2h2M570.9 348.9h2" stroke="#0000ff" stroke-width="0.7" fill="none"/><circle cx="571.9" cy="345.1" r="1.25" fill="#0000ff"/><path d="M568.7 346.5V353.6M567.7 346.5h2M567.7 353.6h2" stroke="#0000ff" stroke-width="0.7" fill="none"/><circle cx="568.7" cy="350.1" r="1.25" fill="#0000ff"/><path d="M585.0 373.6V379.7M584.0 373.6h2M584.0 379.7h2" stroke="#0000ff" stroke-width="0.7" fill="none"/><circle cx="585.0" cy="376.6" r="1.25" fill="#0000ff"/><path d="M585.2 371.1V378.0M584.2 371.1h2M584.2 378.0h2" stroke="#0000ff" stroke-width="0.7" fill="none"/><circle cx="585.2" cy="374.5" r="1.25" fill="#0000ff"/><path d="M584.8 370.8V377.6M583.8 370.8h2M583.8 377.6h2" stroke="#0000ff" stroke-width="0.7" fill="none"/><circle cx="584.8" cy="374.2" r="1.25" fill="#0000ff"/><path d="M603.0 360.3V366.0M602.0 360.3h2M602.0 366.0h2" stroke="#0000ff" stroke-width="0.7" fill="none"/><circle cx="603.0" cy="363.2" r="1.25" fill="#0000ff"/><path d="M603.3 355.0V361.3M602.3 355.0h2M602.3 361.3h2" stroke="#0000ff" stroke-width="0.7" fill="none"/><circle cx="603.3" cy="358.1" r="1.25" fill="#0000ff"/><path d="M603.2 348.8V356.0M602.2 348.8h2M602.2 356.0h2" stroke="#0000ff" stroke-width="0.7" fill="none"/><circle cx="603.2" cy="352.4" r="1.25" fill="#0000ff"/><path d="M602.9 352.1V360.0M601.9 352.1h2M601.9 360.0h2" stroke="#0000ff" stroke-width="0.7" fill="none"/><circle cx="602.9" cy="356.1" r="1.25" fill="#0000ff"/><path d="M613.7 361.9V368.4M612.7 361.9h2M612.7 368.4h2" stroke="#0000ff" stroke-width="0.7" fill="none"/><circle cx="613.7" cy="365.1" r="1.25" fill="#0000ff"/><path d="M615.6 358.1V364.2M614.6 358.1h2M614.6 364.2h2" stroke="#0000ff" stroke-width="0.7" fill="none"/><circle cx="615.6" cy="361.2" r="1.25" fill="#0000ff"/><path d="M614.0 362.5V370.2M613.0 362.5h2M613.0 370.2h2" stroke="#0000ff" stroke-width="0.7" fill="none"/><circle cx="614.0" cy="366.3" r="1.25" fill="#0000ff"/><path d="M613.4 367.4V373.4M612.4 367.4h2M612.4 373.4h2" stroke="#0000ff" stroke-width="0.7" fill="none"/><circle cx="613.4" cy="370.4" r="1.25" fill="#0000ff"/><path d="M614.4 358.9V365.3M613.4 358.9h2M613.4 365.3h2" stroke="#0000ff" stroke-width="0.7" fill="none"/><circle cx="614.4" cy="362.1" r="1.25" fill="#0000ff"/><path d="M616.6 364.0V371.6M615.6 364.0h2M615.6 371.6h2" stroke="#0000ff" stroke-width="0.7" fill="none"/><circle cx="616.6" cy="367.8" r="1.25" fill="#0000ff"/><path d="M613.6 360.0V365.6M612.6 360.0h2M612.6 365.6h2" stroke="#0000ff" stroke-width="0.7" fill="none"/><circle cx="613.6" cy="362.8" r="1.25" fill="#0000ff"/><path d="M614.8 363.8V371.3M613.8 363.8h2M613.8 371.3h2" stroke="#0000ff" stroke-width="0.7" fill="none"/><circle cx="614.8" cy="367.5" r="1.25" fill="#0000ff"/><path d="M612.2 364.9V372.8M611.2 364.9h2M611.2 372.8h2" stroke="#0000ff" stroke-width="0.7" fill="none"/><circle cx="612.2" cy="368.8" r="1.25" fill="#0000ff"/><path d="M614.6 355.9V361.5M613.6 355.9h2M613.6 361.5h2" stroke="#0000ff" stroke-width="0.7" fill="none"/><circle cx="614.6" cy="358.7" r="1.25" fill="#0000ff"/><path d="M616.7 363.9V371.9M615.7 363.9h2M615.7 371.9h2" stroke="#0000ff" stroke-width="0.7" fill="none"/><circle cx="616.7" cy="367.9" r="1.25" fill="#0000ff"/><path d="M618.9 368.8V376.4M617.9 368.8h2M617.9 376.4h2" stroke="#0000ff" stroke-width="0.7" fill="none"/><circle cx="618.9" cy="372.6" r="1.25" fill="#0000ff"/><path d="M620.0 368.7V375.6M619.0 368.7h2M619.0 375.6h2" stroke="#0000ff" stroke-width="0.7" fill="none"/><circle cx="620.0" cy="372.1" r="1.25" fill="#0000ff"/><path d="M619.0 369.6V376.4M618.0 369.6h2M618.0 376.4h2" stroke="#0000ff" stroke-width="0.7" fill="none"/><circle cx="619.0" cy="373.0" r="1.25" fill="#0000ff"/><path d="M619.2 364.6V371.7M618.2 364.6h2M618.2 371.7h2" stroke="#0000ff" stroke-width="0.7" fill="none"/><circle cx="619.2" cy="368.1" r="1.25" fill="#0000ff"/><path d="M618.3 371.2V376.0M617.3 371.2h2M617.3 376.0h2" stroke="#0000ff" stroke-width="0.7" fill="none"/><circle cx="618.3" cy="373.6" r="1.25" fill="#0000ff"/><path d="M617.4 362.6V370.1M616.4 362.6h2M616.4 370.1h2" stroke="#0000ff" stroke-width="0.7" fill="none"/><circle cx="617.4" cy="366.4" r="1.25" fill="#0000ff"/><path d="M620.0 369.6V375.5M619.0 369.6h2M619.0 375.5h2" stroke="#0000ff" stroke-width="0.7" fill="none"/><circle cx="620.0" cy="372.6" r="1.25" fill="#0000ff"/><path d="M626.0 379.1V385.8M625.0 379.1h2M625.0 385.8h2" stroke="#0000ff" stroke-width="0.7" fill="none"/><circle cx="626.0" cy="382.4" r="1.25" fill="#0000ff"/><path d="M624.6 373.6V379.7M623.6 373.6h2M623.6 379.7h2" stroke="#0000ff" stroke-width="0.7" fill="none"/><circle cx="624.6" cy="376.6" r="1.25" fill="#0000ff"/><path d="M624.8 374.7V381.7M623.8 374.7h2M623.8 381.7h2" stroke="#0000ff" stroke-width="0.7" fill="none"/><circle cx="624.8" cy="378.2" r="1.25" fill="#0000ff"/><path d="M626.2 370.3V377.0M625.2 370.3h2M625.2 377.0h2" stroke="#0000ff" stroke-width="0.7" fill="none"/><circle cx="626.2" cy="373.7" r="1.25" fill="#0000ff"/><path d="M624.1 370.6V378.2M623.1 370.6h2M623.1 378.2h2" stroke="#0000ff" stroke-width="0.7" fill="none"/><circle cx="624.1" cy="374.4" r="1.25" fill="#0000ff"/><path d="M625.4 380.9V387.1M624.4 380.9h2M624.4 387.1h2" stroke="#0000ff" stroke-width="0.7" fill="none"/><circle cx="625.4" cy="384.0" r="1.25" fill="#0000ff"/><path d="M654.6 409.9V416.7M653.6 409.9h2M653.6 416.7h2" stroke="#0000ff" stroke-width="0.7" fill="none"/><circle cx="654.6" cy="413.3" r="1.25" fill="#0000ff"/><path d="M662.9 416.9V423.2M661.9 416.9h2M661.9 423.2h2" stroke="#0000ff" stroke-width="0.7" fill="none"/><circle cx="662.9" cy="420.0" r="1.25" fill="#0000ff"/><path d="M658.2 403.9V410.8M657.2 403.9h2M657.2 410.8h2" stroke="#0000ff" stroke-width="0.7" fill="none"/><circle cx="658.2" cy="407.4" r="1.25" fill="#0000ff"/><path d="M656.4 406.3V410.8M655.4 406.3h2M655.4 410.8h2" stroke="#0000ff" stroke-width="0.7" fill="none"/><circle cx="656.4" cy="408.5" r="1.25" fill="#0000ff"/><path d="M654.5 416.5V421.4M653.5 416.5h2M653.5 421.4h2" stroke="#0000ff" stroke-width="0.7" fill="none"/><circle cx="654.5" cy="419.0" r="1.25" fill="#0000ff"/><path d="M663.2 402.4V410.3M662.2 402.4h2M662.2 410.3h2" stroke="#0000ff" stroke-width="0.7" fill="none"/><circle cx="663.2" cy="406.4" r="1.25" fill="#0000ff"/><path d="M655.7 402.6V409.8M654.7 402.6h2M654.7 409.8h2" stroke="#0000ff" stroke-width="0.7" fill="none"/><circle cx="655.7" cy="406.2" r="1.25" fill="#0000ff"/><path d="M656.7 416.4V421.6M655.7 416.4h2M655.7 421.6h2" stroke="#0000ff" stroke-width="0.7" fill="none"/><circle cx="656.7" cy="419.0" r="1.25" fill="#0000ff"/><path d="M655.0 416.9V424.1M654.0 416.9h2M654.0 424.1h2" stroke="#0000ff" stroke-width="0.7" fill="none"/><circle cx="655.0" cy="420.5" r="1.25" fill="#0000ff"/><path d="M662.2 414.1V418.9M661.2 414.1h2M661.2 418.9h2" stroke="#0000ff" stroke-width="0.7" fill="none"/><circle cx="662.2" cy="416.5" r="1.25" fill="#0000ff"/><path d="M660.2 413.9V420.2M659.2 413.9h2M659.2 420.2h2" stroke="#0000ff" stroke-width="0.7" fill="none"/><circle cx="660.2" cy="417.1" r="1.25" fill="#0000ff"/><path d="M662.9 404.8V413.1M661.9 404.8h2M661.9 413.1h2" stroke="#0000ff" stroke-width="0.7" fill="none"/><circle cx="662.9" cy="408.9" r="1.25" fill="#0000ff"/><path d="M661.0 403.2V407.7M660.0 403.2h2M660.0 407.7h2" stroke="#0000ff" stroke-width="0.7" fill="none"/><circle cx="661.0" cy="405.5" r="1.25" fill="#0000ff"/><path d="M660.4 416.4V421.1M659.4 416.4h2M659.4 421.1h2" stroke="#0000ff" stroke-width="0.7" fill="none"/><circle cx="660.4" cy="418.8" r="1.25" fill="#0000ff"/><path d="M657.3 416.1V421.2M656.3 416.1h2M656.3 421.2h2" stroke="#0000ff" stroke-width="0.7" fill="none"/><circle cx="657.3" cy="418.6" r="1.25" fill="#0000ff"/><path d="M662.2 410.4V415.0M661.2 410.4h2M661.2 415.0h2" stroke="#0000ff" stroke-width="0.7" fill="none"/><circle cx="662.2" cy="412.7" r="1.25" fill="#0000ff"/><path d="M657.8 412.6V418.8M656.8 412.6h2M656.8 418.8h2" stroke="#0000ff" stroke-width="0.7" fill="none"/><circle cx="657.8" cy="415.7" r="1.25" fill="#0000ff"/><path d="M660.6 403.9V411.5M659.6 403.9h2M659.6 411.5h2" stroke="#0000ff" stroke-width="0.7" fill="none"/><circle cx="660.6" cy="407.7" r="1.25" fill="#0000ff"/><path d="M678.9 390.7V397.6M677.9 390.7h2M677.9 397.6h2" stroke="#0000ff" stroke-width="0.7" fill="none"/><circle cx="678.9" cy="394.2" r="1.25" fill="#0000ff"/><path d="M679.3 388.3V395.9M678.3 388.3h2M678.3 395.9h2" stroke="#0000ff" stroke-width="0.7" fill="none"/><circle cx="679.3" cy="392.1" r="1.25" fill="#0000ff"/><path d="M683.6 391.9V398.6M682.6 391.9h2M682.6 398.6h2" stroke="#0000ff" stroke-width="0.7" fill="none"/><circle cx="683.6" cy="395.3" r="1.25" fill="#0000ff"/><path d="M678.3 385.3V393.6M677.3 385.3h2M677.3 393.6h2" stroke="#0000ff" stroke-width="0.7" fill="none"/><circle cx="678.3" cy="389.5" r="1.25" fill="#0000ff"/><path d="M681.6 392.8V398.5M680.6 392.8h2M680.6 398.5h2" stroke="#0000ff" stroke-width="0.7" fill="none"/><circle cx="681.6" cy="395.6" r="1.25" fill="#0000ff"/><path d="M680.8 393.0V400.7M679.8 393.0h2M679.8 400.7h2" stroke="#0000ff" stroke-width="0.7" fill="none"/><circle cx="680.8" cy="396.8" r="1.25" fill="#0000ff"/><path d="M680.8 388.4V394.5M679.8 388.4h2M679.8 394.5h2" stroke="#0000ff" stroke-width="0.7" fill="none"/><circle cx="680.8" cy="391.5" r="1.25" fill="#0000ff"/><path d="M683.1 388.4V395.6M682.1 388.4h2M682.1 395.6h2" stroke="#0000ff" stroke-width="0.7" fill="none"/><circle cx="683.1" cy="392.0" r="1.25" fill="#0000ff"/><path d="M680.8 392.4V400.0M679.8 392.4h2M679.8 400.0h2" stroke="#0000ff" stroke-width="0.7" fill="none"/><circle cx="680.8" cy="396.2" r="1.25" fill="#0000ff"/><path d="M678.3 386.3V391.7M677.3 386.3h2M677.3 391.7h2" stroke="#0000ff" stroke-width="0.7" fill="none"/><circle cx="678.3" cy="389.0" r="1.25" fill="#0000ff"/><path d="M679.4 389.9V397.5M678.4 389.9h2M678.4 397.5h2" stroke="#0000ff" stroke-width="0.7" fill="none"/><circle cx="679.4" cy="393.7" r="1.25" fill="#0000ff"/><path d="M683.1 385.5V393.2M682.1 385.5h2M682.1 393.2h2" stroke="#0000ff" stroke-width="0.7" fill="none"/><circle cx="683.1" cy="389.3" r="1.25" fill="#0000ff"/><path d="M684.5 410.3V417.0M683.5 410.3h2M683.5 417.0h2" stroke="#0000ff" stroke-width="0.7" fill="none"/><circle cx="684.5" cy="413.7" r="1.25" fill="#0000ff"/><path d="M680.2 409.7V417.3M679.2 409.7h2M679.2 417.3h2" stroke="#0000ff" stroke-width="0.7" fill="none"/><circle cx="680.2" cy="413.5" r="1.25" fill="#0000ff"/><path d="M683.5 411.2V417.0M682.5 411.2h2M682.5 417.0h2" stroke="#0000ff" stroke-width="0.7" fill="none"/><circle cx="683.5" cy="414.1" r="1.25" fill="#0000ff"/><path d="M678.7 406.7V414.3M677.7 406.7h2M677.7 414.3h2" stroke="#0000ff" stroke-width="0.7" fill="none"/><circle cx="678.7" cy="410.5" r="1.25" fill="#0000ff"/><path d="M679.6 408.4V416.6M678.6 408.4h2M678.6 416.6h2" stroke="#0000ff" stroke-width="0.7" fill="none"/><circle cx="679.6" cy="412.5" r="1.25" fill="#0000ff"/><path d="M679.9 407.5V414.6M678.9 407.5h2M678.9 414.6h2" stroke="#0000ff" stroke-width="0.7" fill="none"/><circle cx="679.9" cy="411.1" r="1.25" fill="#0000ff"/><path d="M681.7 404.4V409.8M680.7 404.4h2M680.7 409.8h2" stroke="#0000ff" stroke-width="0.7" fill="none"/><circle cx="681.7" cy="407.1" r="1.25" fill="#0000ff"/><path d="M684.0 409.8V416.0M683.0 409.8h2M683.0 416.0h2" stroke="#0000ff" stroke-width="0.7" fill="none"/><circle cx="684.0" cy="412.9" r="1.25" fill="#0000ff"/><path d="M678.7 409.3V416.8M677.7 409.3h2M677.7 416.8h2" stroke="#0000ff" stroke-width="0.7" fill="none"/><circle cx="678.7" cy="413.1" r="1.25" fill="#0000ff"/><path d="M679.9 406.8V414.8M678.9 406.8h2M678.9 414.8h2" stroke="#0000ff" stroke-width="0.7" fill="none"/><circle cx="679.9" cy="410.8" r="1.25" fill="#0000ff"/><path d="M685.1 407.1V413.4M684.1 407.1h2M684.1 413.4h2" stroke="#0000ff" stroke-width="0.7" fill="none"/><circle cx="685.1" cy="410.2" r="1.25" fill="#0000ff"/><path d="M682.7 404.3V409.5M681.7 404.3h2M681.7 409.5h2" stroke="#0000ff" stroke-width="0.7" fill="none"/><circle cx="682.7" cy="406.9" r="1.25" fill="#0000ff"/><path d="M676.6 426.3V432.1M675.6 426.3h2M675.6 432.1h2" stroke="#0000ff" stroke-width="0.7" fill="none"/><circle cx="676.6" cy="429.2" r="1.25" fill="#0000ff"/><path d="M676.9 421.2V427.7M675.9 421.2h2M675.9 427.7h2" stroke="#0000ff" stroke-width="0.7" fill="none"/><circle cx="676.9" cy="424.4" r="1.25" fill="#0000ff"/><path d="M676.6 414.5V422.9M675.6 414.5h2M675.6 422.9h2" stroke="#0000ff" stroke-width="0.7" fill="none"/><circle cx="676.6" cy="418.7" r="1.25" fill="#0000ff"/><path d="M676.8 416.2V423.2M675.8 416.2h2M675.8 423.2h2" stroke="#0000ff" stroke-width="0.7" fill="none"/><circle cx="676.8" cy="419.7" r="1.25" fill="#0000ff"/><path d="M721.6 364.7V371.5M720.6 364.7h2M720.6 371.5h2" stroke="#0000ff" stroke-width="0.7" fill="none"/><circle cx="721.6" cy="368.1" r="1.25" fill="#0000ff"/><path d="M719.3 373.0V377.5M718.3 373.0h2M718.3 377.5h2" stroke="#0000ff" stroke-width="0.7" fill="none"/><circle cx="719.3" cy="375.3" r="1.25" fill="#0000ff"/><path d="M717.7 378.7V386.5M716.7 378.7h2M716.7 386.5h2" stroke="#0000ff" stroke-width="0.7" fill="none"/><circle cx="717.7" cy="382.6" r="1.25" fill="#0000ff"/><path d="M720.0 371.8V377.2M719.0 371.8h2M719.0 377.2h2" stroke="#0000ff" stroke-width="0.7" fill="none"/><circle cx="720.0" cy="374.5" r="1.25" fill="#0000ff"/><path d="M721.6 366.6V374.8M720.6 366.6h2M720.6 374.8h2" stroke="#0000ff" stroke-width="0.7" fill="none"/><circle cx="721.6" cy="370.7" r="1.25" fill="#0000ff"/><path d="M721.5 370.3V378.5M720.5 370.3h2M720.5 378.5h2" stroke="#0000ff" stroke-width="0.7" fill="none"/><circle cx="721.5" cy="374.4" r="1.25" fill="#0000ff"/><path d="M718.8 368.7V373.9M717.8 368.7h2M717.8 373.9h2" stroke="#0000ff" stroke-width="0.7" fill="none"/><circle cx="718.8" cy="371.3" r="1.25" fill="#0000ff"/><path d="M718.4 370.1V374.7M717.4 370.1h2M717.4 374.7h2" stroke="#0000ff" stroke-width="0.7" fill="none"/><circle cx="718.4" cy="372.4" r="1.25" fill="#0000ff"/><path d="M720.4 373.6V379.9M719.4 373.6h2M719.4 379.9h2" stroke="#0000ff" stroke-width="0.7" fill="none"/><circle cx="720.4" cy="376.8" r="1.25" fill="#0000ff"/><path d="M722.4 371.3V376.0M721.4 371.3h2M721.4 376.0h2" stroke="#0000ff" stroke-width="0.7" fill="none"/><circle cx="722.4" cy="373.7" r="1.25" fill="#0000ff"/><path d="M741.4 339.3V344.2M740.4 339.3h2M740.4 344.2h2" stroke="#0000ff" stroke-width="0.7" fill="none"/><circle cx="741.4" cy="341.7" r="1.25" fill="#0000ff"/><path d="M744.6 333.0V339.6M743.6 333.0h2M743.6 339.6h2" stroke="#0000ff" stroke-width="0.7" fill="none"/><circle cx="744.6" cy="336.3" r="1.25" fill="#0000ff"/><path d="M741.8 343.3V350.3M740.8 343.3h2M740.8 350.3h2" stroke="#0000ff" stroke-width="0.7" fill="none"/><circle cx="741.8" cy="346.8" r="1.25" fill="#0000ff"/><path d="M739.5 341.9V346.9M738.5 341.9h2M738.5 346.9h2" stroke="#0000ff" stroke-width="0.7" fill="none"/><circle cx="739.5" cy="344.4" r="1.25" fill="#0000ff"/><path d="M744.7 341.6V346.9M743.7 341.6h2M743.7 346.9h2" stroke="#0000ff" stroke-width="0.7" fill="none"/><circle cx="744.7" cy="344.2" r="1.25" fill="#0000ff"/><path d="M736.3 343.7V349.5M735.3 343.7h2M735.3 349.5h2" stroke="#0000ff" stroke-width="0.7" fill="none"/><circle cx="736.3" cy="346.6" r="1.25" fill="#0000ff"/><path d="M744.1 340.0V347.7M743.1 340.0h2M743.1 347.7h2" stroke="#0000ff" stroke-width="0.7" fill="none"/><circle cx="744.1" cy="343.9" r="1.25" fill="#0000ff"/><path d="M736.4 347.2V354.5M735.4 347.2h2M735.4 354.5h2" stroke="#0000ff" stroke-width="0.7" fill="none"/><circle cx="736.4" cy="350.8" r="1.25" fill="#0000ff"/><path d="M741.8 344.7V349.3M740.8 344.7h2M740.8 349.3h2" stroke="#0000ff" stroke-width="0.7" fill="none"/><circle cx="741.8" cy="347.0" r="1.25" fill="#0000ff"/><path d="M737.3 345.6V353.7M736.3 345.6h2M736.3 353.7h2" stroke="#0000ff" stroke-width="0.7" fill="none"/><circle cx="737.3" cy="349.6" r="1.25" fill="#0000ff"/><path d="M742.1 336.5V343.3M741.1 336.5h2M741.1 343.3h2" stroke="#0000ff" stroke-width="0.7" fill="none"/><circle cx="742.1" cy="339.9" r="1.25" fill="#0000ff"/><path d="M742.8 334.1V339.8M741.8 334.1h2M741.8 339.8h2" stroke="#0000ff" stroke-width="0.7" fill="none"/><circle cx="742.8" cy="337.0" r="1.25" fill="#0000ff"/><path d="M738.3 339.8V346.2M737.3 339.8h2M737.3 346.2h2" stroke="#0000ff" stroke-width="0.7" fill="none"/><circle cx="738.3" cy="343.0" r="1.25" fill="#0000ff"/><path d="M737.5 342.5V347.5M736.5 342.5h2M736.5 347.5h2" stroke="#0000ff" stroke-width="0.7" fill="none"/><circle cx="737.5" cy="345.0" r="1.25" fill="#0000ff"/><path d="M742.1 333.4V340.6M741.1 333.4h2M741.1 340.6h2" stroke="#0000ff" stroke-width="0.7" fill="none"/><circle cx="742.1" cy="337.0" r="1.25" fill="#0000ff"/><path d="M737.8 338.9V347.0M736.8 338.9h2M736.8 347.0h2" stroke="#0000ff" stroke-width="0.7" fill="none"/><circle cx="737.8" cy="343.0" r="1.25" fill="#0000ff"/><path d="M738.0 346.5V354.4M737.0 346.5h2M737.0 354.4h2" stroke="#0000ff" stroke-width="0.7" fill="none"/><circle cx="738.0" cy="350.4" r="1.25" fill="#0000ff"/><path d="M744.0 332.7V338.9M743.0 332.7h2M743.0 338.9h2" stroke="#0000ff" stroke-width="0.7" fill="none"/><circle cx="744.0" cy="335.8" r="1.25" fill="#0000ff"/><path d="M633.00 380.00V389.00M632.00 380.00h2.0M632.00 389.00h2.0" stroke="#0000ff" stroke-width="0.7" fill="none"/><circle cx="633.00" cy="384.40" r="1.3" fill="#0000ff"/></g>
<g fill="#1a1a1a" font-family="Liberation Serif, serif"><rect x="693.2" y="471.3" width="51.2" height="21.9" fill="none" stroke="#505050" stroke-width="1.0"/><circle cx="702.80" cy="477.40" r="1.2" fill="#ff0000"/><circle cx="702.80" cy="487.40" r="1.3" fill="#0000ff"/><text transform="translate(715.20 481.20) scale(1 1.08)" font-size="9.2">V band</text><text transform="translate(715.20 490.80) scale(1 1.08)" font-size="9.2">B band</text></g>
<defs><filter id="nz" x="0" y="0" width="100%" height="100%" color-interpolation-filters="sRGB"><feTurbulence type="fractalNoise" baseFrequency="0.3" numOctaves="2" seed="3"/><feColorMatrix type="matrix" values="0.65 0 0 0 0.32598039215686275  0.65 0 0 0 0.32598039215686275  0.65 0 0 0 0.32598039215686275  0 0 0 0 1"/><feGaussianBlur stdDeviation="0"/></filter><filter id="nz2" x="0" y="0" width="100%" height="100%" color-interpolation-filters="sRGB"><feTurbulence type="fractalNoise" baseFrequency="0.3" numOctaves="2" seed="9"/><feColorMatrix type="matrix" values="0.45 0 0 0 0.36715686274509807  0.45 0 0 0 0.36715686274509807  0.45 0 0 0 0.36715686274509807  0 0 0 0 1"/><feGaussianBlur stdDeviation="0"/></filter><filter id="bl" x="-5%" y="-5%" width="110%" height="110%"><feGaussianBlur stdDeviation="0.55"/></filter><filter id="hb" x="-50%" y="-50%" width="200%" height="200%"><feGaussianBlur stdDeviation="0.8"/></filter><clipPath id="cl"><rect x="36.6" y="316" width="160.2" height="159.8"/></clipPath><clipPath id="cr"><rect x="197.3" y="316" width="160.8" height="159.8"/></clipPath></defs>
<g><rect x="36.6" y="316" width="160.2" height="159.8" filter="url(#nz)"/><rect x="197.3" y="316" width="160.8" height="159.8" filter="url(#nz2)"/><g clip-path="url(#cl)"><circle cx="127.9" cy="333.8" r="7.199999999999999" fill="#151515" filter="url(#hb)"/><circle cx="127.9" cy="333.8" r="3.9" fill="#fff"/><circle cx="82.9" cy="356.0" r="4.6" fill="#0a0a0a" filter="url(#hb)"/><circle cx="82.9" cy="356.0" r="1.5" fill="#fff"/><circle cx="155.0" cy="353.0" r="8.5" fill="#151515" filter="url(#hb)"/><circle cx="155.0" cy="353.0" r="6.2" fill="#fff"/><circle cx="178.6" cy="336.6" r="5.6" fill="#151515" filter="url(#hb)"/><circle cx="178.6" cy="336.6" r="2.5" fill="#fff"/><circle cx="141.6" cy="443.4" r="4.5" fill="#151515" filter="url(#hb)"/><circle cx="141.6" cy="443.4" r="1.6" fill="#fff"/><circle cx="59.1" cy="406.6" r="3.4" fill="#333" filter="url(#hb)"/><circle cx="59.1" cy="406.6" r="1.2" fill="#fff"/><circle cx="79.2" cy="338.1" r="2.6" fill="#555" filter="url(#hb)"/><circle cx="79.2" cy="338.1" r="1.0" fill="#fff"/><circle cx="38.2" cy="343.3" r="2.8000000000000003" fill="#444" filter="url(#hb)"/><circle cx="38.2" cy="343.3" r="1.1" fill="#fff"/><circle cx="77.7" cy="382.8" r="2.2" fill="#666" filter="url(#hb)"/><circle cx="77.7" cy="382.8" r="0.8" fill="#fff"/><circle cx="160.0" cy="383.9" r="2.4" fill="#666" filter="url(#hb)"/><circle cx="160.0" cy="383.9" r="1.0" fill="#fff"/><circle cx="54.6" cy="321" r="1.1" fill="#f8f8f8"/><circle cx="67.3" cy="379.4" r="1.0" fill="#f8f8f8"/><circle cx="47.2" cy="366.4" r="0.8" fill="#f8f8f8"/><circle cx="127.9" cy="344.8" r="0.9" fill="#f8f8f8"/><circle cx="151.8" cy="380.6" r="0.8" fill="#f8f8f8"/><circle cx="186.8" cy="369.4" r="0.8" fill="#f8f8f8"/><circle cx="66.6" cy="405.1" r="1.0" fill="#f8f8f8"/><circle cx="56.1" cy="457.9" r="1.0" fill="#f8f8f8"/><circle cx="62.1" cy="430" r="0.8" fill="#f8f8f8"/><circle cx="95.6" cy="447.9" r="0.8" fill="#f8f8f8"/><circle cx="65.8" cy="363.4" r="0.7" fill="#f8f8f8"/><circle cx="113.2" cy="391.5" r="0.9" fill="#f8f8f8"/><circle cx="170" cy="452" r="0.8" fill="#f8f8f8"/><circle cx="150" cy="465" r="0.8" fill="#f8f8f8"/><circle cx="185" cy="440" r="0.7" fill="#f8f8f8"/><circle cx="110" cy="440" r="0.7" fill="#f8f8f8"/><circle cx="45" cy="470" r="0.7" fill="#f8f8f8"/><circle cx="101.3" cy="461.8" r="1.2" fill="#1a1a1a"/><circle cx="113.4" cy="403.0" r="2.1" fill="#1a1a1a"/><circle cx="113.6" cy="402.8" r="0.6" fill="#ddd"/><path d="M40.5 347.8L60.6 367.2" stroke="#fff" stroke-width="1.7" stroke-linecap="round"/><polygon points="131.8,314 138.6,314 128,476 121.2,476" fill="#fff"/><polygon points="36,410.6 197.5,421.6 197.5,431.3 36,420.3" fill="#fff"/><rect x="104.8" y="393.4" width="18.7" height="18.4" fill="none" stroke="#8b1010" stroke-width="1.9"/></g><text x="115.6" y="328.9" text-anchor="middle" font-size="8.2" font-weight="bold" fill="#222" style="font-family:Liberation Sans,sans-serif;stroke:#222;stroke-width:.3px">N</text><text x="39.8" y="388.8" text-anchor="middle" font-size="8" font-weight="bold" fill="#222" style="font-family:Liberation Sans,sans-serif;stroke:#222;stroke-width:.2px">E</text><g clip-path="url(#cr)"><circle cx="283.7" cy="336.6" r="5.9" fill="#454545" filter="url(#hb)"/><circle cx="283.7" cy="336.6" r="3.8" fill="#ececec"/><circle cx="329.4" cy="340.3" r="5.1000000000000005" fill="#454545" filter="url(#hb)"/><circle cx="329.4" cy="340.3" r="2.8" fill="#ececec"/><circle cx="307.5" cy="354.4" r="7.300000000000001" fill="#454545" filter="url(#hb)"/><circle cx="307.5" cy="354.4" r="5.0" fill="#ececec"/><circle cx="241.0" cy="355.2" r="4.3" fill="#454545" filter="url(#hb)"/><circle cx="241.0" cy="355.2" r="2.2" fill="#ececec"/><circle cx="287.4" cy="351.0" r="3.6999999999999997" fill="#454545" filter="url(#hb)"/><circle cx="287.4" cy="351.0" r="1.7" fill="#ececec"/><circle cx="292.2" cy="438.5" r="4.1000000000000005" fill="#454545" filter="url(#hb)"/><circle cx="292.2" cy="438.5" r="2.0" fill="#ececec"/><circle cx="352.6" cy="442.3" r="4.8" fill="#454545" filter="url(#hb)"/><circle cx="352.6" cy="442.3" r="2.6" fill="#ececec"/><circle cx="258.8" cy="471.7" r="3.6" fill="#454545" filter="url(#hb)"/><circle cx="258.8" cy="471.7" r="1.7" fill="#ececec"/><path d="M300 354.4h16.4" stroke="#ececec" stroke-width="1.3"/><circle cx="216.1" cy="321.7" r="1.2" fill="#f0f0f0"/><circle cx="238.4" cy="338.1" r="1.2" fill="#f0f0f0"/><circle cx="200.3" cy="341.8" r="1.2" fill="#f0f0f0"/><circle cx="204.7" cy="351.5" r="1.1" fill="#f0f0f0"/><circle cx="208.2" cy="363.9" r="1.1" fill="#f0f0f0"/><circle cx="226.1" cy="376.8" r="1.2" fill="#f0f0f0"/><circle cx="235.4" cy="379.8" r="1.2" fill="#f0f0f0"/><circle cx="296.3" cy="337.6" r="1.0" fill="#f0f0f0"/><circle cx="283" cy="346.5" r="1.0" fill="#f0f0f0"/><circle cx="294.1" cy="350" r="1.0" fill="#f0f0f0"/><circle cx="311.2" cy="383.8" r="1.4" fill="#f0f0f0"/><circle cx="297.8" cy="317.7" r="1.0" fill="#f0f0f0"/><circle cx="333.5" cy="319.5" r="1.0" fill="#f0f0f0"/><circle cx="352.1" cy="320.7" r="0.9" fill="#f0f0f0"/><circle cx="335.8" cy="371.3" r="0.9" fill="#f0f0f0"/><circle cx="217.9" cy="401.7" r="1.4" fill="#f0f0f0"/><circle cx="224.3" cy="400.2" r="1.1" fill="#f0f0f0"/><circle cx="254.4" cy="397.7" r="1.0" fill="#f0f0f0"/><circle cx="213.4" cy="449.4" r="1.2" fill="#f0f0f0"/><circle cx="269.3" cy="447.5" r="1.2" fill="#f0f0f0"/><circle cx="220.8" cy="466.5" r="1.0" fill="#f0f0f0"/><circle cx="303" cy="412.6" r="1.0" fill="#f0f0f0"/><circle cx="325.4" cy="422.5" r="1.0" fill="#f0f0f0"/><circle cx="312" cy="452.3" r="1.1" fill="#f0f0f0"/><circle cx="311.2" cy="436.7" r="0.8" fill="#f0f0f0"/><circle cx="329.8" cy="467.9" r="0.9" fill="#f0f0f0"/><circle cx="277.7" cy="419.6" r="0.9" fill="#f0f0f0"/><circle cx="267" cy="371.6" r="0.9" fill="#f0f0f0"/><circle cx="254.4" cy="454.3" r="1.1" fill="#333"/><rect x="259.5" y="390.8" width="16.4" height="16.6" fill="none" stroke="#3c3c3c" stroke-width="1.4"/><circle cx="267.3" cy="400.0" r="1.8" fill="#2a2a2a"/><path d="M287.1 462.4H349.6" stroke="#111" stroke-width="1.5"/></g><text x="317.3" y="459.8" text-anchor="middle" font-size="8.5" fill="#222" font-family="Liberation Serif, serif">1</text><path d="M321.6 454.2L320.7 456.8" stroke="#222" stroke-width="0.8" stroke-linecap="round"/><path d="M196.8 316V475.8" stroke="#111" stroke-width="1.4"/><path d="M198.4 316V475.8" stroke="#e4e4e4" stroke-width="0.9"/></g></svg></body></html>
